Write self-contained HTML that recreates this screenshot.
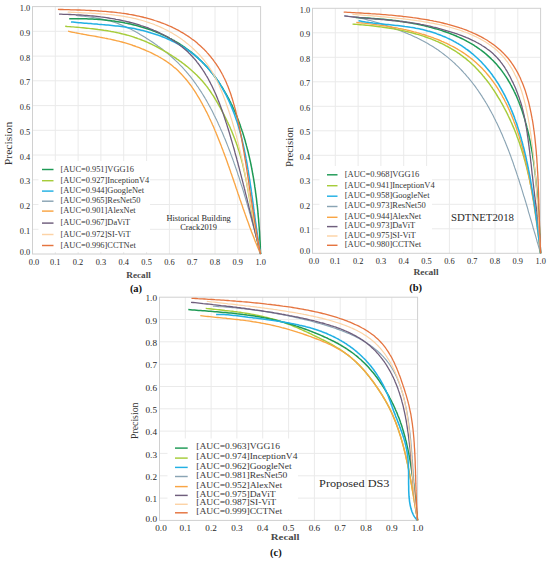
<!DOCTYPE html>
<html><head><meta charset="utf-8"><style>
html,body{margin:0;padding:0;background:#fff;}
svg{display:block;}
text{font-family:"Liberation Serif",serif;}
.g{stroke:#eaeaea;stroke-width:1;}
.bd{fill:none;stroke:#d0d0d0;stroke-width:1;}
.c{fill:none;stroke-linejoin:round;stroke-linecap:butt;}
.t{fill:#262626;}
.lg{fill:#363636;}
.an{fill:#2a2a2a;}
.al{fill:#4a4a4a;font-weight:bold;}
.ar{fill:#333;}
.b{font-weight:bold;fill:#3a3a3a;}
.pl{fill:#111;font-weight:bold;}
</style></head><body>
<svg width="550" height="563" viewBox="0 0 550 563">
<rect width="550" height="563" fill="#fff"/>
<line x1="55.3" y1="6.6" x2="55.3" y2="254.0" class="g"/>
<line x1="32.5" y1="229.3" x2="260.6" y2="229.3" class="g"/>
<line x1="78.1" y1="6.6" x2="78.1" y2="254.0" class="g"/>
<line x1="32.5" y1="204.5" x2="260.6" y2="204.5" class="g"/>
<line x1="100.9" y1="6.6" x2="100.9" y2="254.0" class="g"/>
<line x1="32.5" y1="179.8" x2="260.6" y2="179.8" class="g"/>
<line x1="123.7" y1="6.6" x2="123.7" y2="254.0" class="g"/>
<line x1="32.5" y1="155.0" x2="260.6" y2="155.0" class="g"/>
<line x1="146.6" y1="6.6" x2="146.6" y2="254.0" class="g"/>
<line x1="32.5" y1="130.3" x2="260.6" y2="130.3" class="g"/>
<line x1="169.4" y1="6.6" x2="169.4" y2="254.0" class="g"/>
<line x1="32.5" y1="105.6" x2="260.6" y2="105.6" class="g"/>
<line x1="192.2" y1="6.6" x2="192.2" y2="254.0" class="g"/>
<line x1="32.5" y1="80.8" x2="260.6" y2="80.8" class="g"/>
<line x1="215.0" y1="6.6" x2="215.0" y2="254.0" class="g"/>
<line x1="32.5" y1="56.1" x2="260.6" y2="56.1" class="g"/>
<line x1="237.8" y1="6.6" x2="237.8" y2="254.0" class="g"/>
<line x1="32.5" y1="31.3" x2="260.6" y2="31.3" class="g"/>
<rect x="38.5" y="161" width="111.5" height="91" fill="#fff"/>
<rect x="32.5" y="6.6" width="228.1" height="247.4" class="bd"/>
<path d="M76.1,15.5 L78.0,15.7 L80.0,15.9 L81.9,16.1 L83.8,16.3 L85.7,16.5 L87.6,16.7 L89.5,17.0 L91.4,17.2 L93.2,17.5 L95.1,17.8 L96.9,18.1 L98.7,18.4 L100.5,18.8 L102.2,19.1 L104.0,19.5 L105.7,19.9 L107.4,20.4 L109.1,20.8 L110.7,21.3 L112.4,21.7 L114.0,22.3 L115.6,22.8 L117.2,23.3 L118.7,23.9 L120.2,24.5 L121.8,25.1 L123.3,25.7 L124.7,26.4 L126.2,27.0 L127.7,27.7 L129.1,28.4 L130.5,29.1 L131.9,29.8 L133.3,30.6 L134.7,31.3 L136.1,32.1 L137.4,32.8 L138.8,33.6 L140.1,34.4 L141.5,35.2 L142.8,36.0 L144.1,36.8 L145.4,37.6 L146.7,38.4 L148.0,39.2 L149.3,40.1 L150.6,40.9 L151.9,41.8 L153.1,42.6 L154.4,43.5 L155.7,44.4 L156.9,45.2 L158.1,46.1 L159.4,47.0 L160.6,47.9 L161.8,48.8 L163.0,49.8 L164.2,50.7 L165.4,51.6 L166.5,52.6 L167.7,53.6 L168.9,54.5 L170.0,55.5 L171.1,56.5 L172.3,57.5 L173.4,58.5 L174.5,59.5 L175.6,60.6 L176.7,61.6 L177.8,62.6 L178.8,63.7 L179.9,64.8 L180.9,65.8 L182.0,66.9 L183.0,68.0 L184.0,69.2 L185.0,70.3 L186.0,71.4 L187.0,72.6 L187.9,73.7 L188.9,74.9 L189.9,76.0 L190.8,77.2 L191.7,78.4 L192.7,79.6 L193.6,80.8 L194.5,82.1 L195.4,83.3 L196.2,84.5 L197.1,85.8 L198.0,87.0 L198.8,88.3 L199.7,89.6 L200.5,90.9 L201.4,92.2 L202.2,93.5 L203.0,94.8 L203.8,96.1 L204.6,97.4 L205.4,98.8 L206.2,100.1 L207.0,101.5 L207.7,102.8 L208.5,104.2 L209.2,105.6 L210.0,106.9 L210.7,108.3 L211.5,109.7 L212.2,111.1 L212.9,112.5 L213.6,113.9 L214.3,115.4 L215.0,116.8 L215.7,118.2 L216.4,119.6 L217.1,121.1 L217.8,122.5 L218.4,124.0 L219.1,125.5 L219.8,126.9 L220.4,128.4 L221.1,129.9 L221.7,131.3 L222.4,132.8 L223.0,134.3 L223.6,135.8 L224.2,137.3 L224.9,138.8 L225.5,140.3 L226.1,141.8 L226.7,143.3 L227.3,144.9 L227.9,146.4 L228.5,147.9 L229.1,149.5 L229.7,151.0 L230.3,152.5 L230.8,154.1 L231.4,155.6 L232.0,157.2 L232.6,158.8 L233.1,160.3 L233.7,161.9 L234.2,163.5 L234.8,165.0 L235.3,166.6 L235.9,168.2 L236.4,169.8 L237.0,171.4 L237.5,172.9 L238.0,174.5 L238.6,176.1 L239.1,177.7 L239.6,179.3 L240.1,181.0 L240.6,182.6 L241.1,184.2 L241.7,185.8 L242.2,187.4 L242.7,189.0 L243.2,190.7 L243.7,192.3 L244.2,193.9 L244.6,195.6 L245.1,197.2 L245.6,198.8 L246.1,200.5 L246.6,202.1 L247.1,203.8 L247.5,205.4 L248.0,207.1 L248.5,208.7 L249.0,210.4 L249.4,212.0 L249.9,213.7 L250.4,215.4 L250.8,217.0 L251.3,218.7 L251.7,220.3 L252.2,222.0 L252.7,223.7 L253.1,225.4 L253.6,227.0 L254.0,228.7 L254.5,230.4 L254.9,232.1 L255.3,233.7 L255.8,235.4 L256.2,237.1 L256.7,238.8 L257.1,240.5 L257.6,242.2 L258.0,243.9 L258.4,245.5 L258.9,247.2 L259.3,248.9 L259.7,250.6 L260.2,252.3 L260.6,254.0" stroke="#8aa4b4" class="c" stroke-width="1.15"/>
<path d="M65.2,26.3 L67.2,26.5 L69.1,26.6 L71.1,26.8 L73.1,26.9 L75.0,27.1 L77.0,27.2 L79.0,27.4 L80.9,27.6 L82.9,27.8 L84.8,28.0 L86.7,28.2 L88.7,28.4 L90.6,28.6 L92.5,28.8 L94.4,29.0 L96.3,29.2 L98.2,29.5 L100.0,29.7 L101.9,30.0 L103.8,30.3 L105.6,30.5 L107.4,30.8 L109.3,31.1 L111.1,31.5 L112.9,31.8 L114.6,32.1 L116.4,32.5 L118.2,32.9 L119.9,33.3 L121.6,33.7 L123.3,34.1 L125.0,34.5 L126.7,35.0 L128.3,35.4 L130.0,35.9 L131.6,36.4 L133.2,36.9 L134.8,37.5 L136.4,38.0 L138.0,38.6 L139.5,39.1 L141.1,39.7 L142.6,40.3 L144.1,40.9 L145.6,41.5 L147.1,42.2 L148.6,42.8 L150.0,43.5 L151.5,44.2 L152.9,44.9 L154.4,45.6 L155.8,46.3 L157.2,47.0 L158.6,47.8 L159.9,48.5 L161.3,49.3 L162.7,50.0 L164.0,50.8 L165.3,51.6 L166.7,52.4 L168.0,53.2 L169.3,54.0 L170.6,54.8 L171.9,55.7 L173.2,56.5 L174.5,57.3 L175.8,58.2 L177.0,59.1 L178.3,59.9 L179.5,60.8 L180.8,61.7 L182.0,62.6 L183.2,63.5 L184.4,64.4 L185.6,65.4 L186.8,66.3 L188.0,67.3 L189.1,68.2 L190.3,69.2 L191.4,70.2 L192.5,71.2 L193.6,72.2 L194.7,73.2 L195.8,74.3 L196.9,75.3 L198.0,76.4 L199.0,77.5 L200.0,78.6 L201.1,79.7 L202.1,80.8 L203.1,81.9 L204.0,83.1 L205.0,84.2 L205.9,85.4 L206.9,86.6 L207.8,87.8 L208.7,89.1 L209.6,90.3 L210.4,91.5 L211.3,92.8 L212.1,94.1 L213.0,95.4 L213.8,96.7 L214.6,98.0 L215.4,99.3 L216.2,100.7 L217.0,102.0 L217.8,103.4 L218.5,104.7 L219.3,106.1 L220.1,107.4 L220.8,108.8 L221.6,110.2 L222.3,111.6 L223.0,113.0 L223.8,114.4 L224.5,115.8 L225.2,117.2 L225.9,118.6 L226.6,120.0 L227.3,121.5 L228.0,122.9 L228.6,124.4 L229.3,125.8 L230.0,127.3 L230.6,128.8 L231.3,130.3 L231.9,131.7 L232.5,133.2 L233.1,134.8 L233.7,136.3 L234.3,137.8 L234.9,139.3 L235.5,140.9 L236.1,142.4 L236.6,144.0 L237.2,145.6 L237.7,147.2 L238.2,148.8 L238.8,150.4 L239.3,152.0 L239.8,153.7 L240.2,155.3 L240.7,157.0 L241.2,158.6 L241.6,160.3 L242.1,162.0 L242.5,163.7 L242.9,165.4 L243.3,167.1 L243.7,168.8 L244.1,170.6 L244.5,172.3 L244.9,174.1 L245.2,175.8 L245.6,177.6 L246.0,179.3 L246.3,181.1 L246.7,182.9 L247.0,184.7 L247.3,186.5 L247.7,188.3 L248.0,190.1 L248.3,191.9 L248.6,193.7 L249.0,195.5 L249.3,197.3 L249.6,199.1 L249.9,200.9 L250.2,202.7 L250.5,204.5 L250.8,206.4 L251.2,208.2 L251.5,210.0 L251.8,211.8 L252.1,213.6 L252.4,215.4 L252.7,217.2 L253.0,219.0 L253.4,220.8 L253.7,222.6 L254.0,224.4 L254.4,226.2 L254.7,228.0 L255.0,229.8 L255.4,231.6 L255.7,233.3 L256.1,235.1 L256.5,236.9 L256.9,238.6 L257.2,240.4 L257.6,242.1 L258.0,243.8 L258.4,245.5 L258.8,247.3 L259.3,249.0 L259.7,250.6 L260.1,252.3 L260.6,254.0" stroke="#a6cc3a" class="c" stroke-width="1.45"/>
<path d="M68.1,31.2 L69.8,31.6 L71.5,32.0 L73.2,32.3 L75.0,32.7 L76.7,33.0 L78.5,33.3 L80.2,33.7 L82.0,34.0 L83.8,34.3 L85.5,34.6 L87.3,35.0 L89.1,35.3 L90.8,35.6 L92.6,35.9 L94.4,36.2 L96.2,36.5 L97.9,36.8 L99.7,37.2 L101.5,37.5 L103.2,37.8 L105.0,38.2 L106.7,38.5 L108.4,38.9 L110.2,39.2 L111.9,39.6 L113.6,40.0 L115.3,40.4 L117.0,40.8 L118.7,41.2 L120.3,41.6 L122.0,42.0 L123.6,42.5 L125.2,42.9 L126.8,43.4 L128.4,43.9 L130.0,44.4 L131.6,44.9 L133.1,45.5 L134.7,46.0 L136.2,46.6 L137.7,47.1 L139.3,47.7 L140.8,48.3 L142.2,48.9 L143.7,49.5 L145.2,50.1 L146.6,50.8 L148.1,51.4 L149.5,52.0 L150.9,52.7 L152.3,53.4 L153.7,54.1 L155.1,54.8 L156.5,55.5 L157.9,56.2 L159.2,57.0 L160.5,57.7 L161.8,58.5 L163.1,59.3 L164.4,60.1 L165.7,60.9 L166.9,61.7 L168.2,62.6 L169.4,63.5 L170.6,64.4 L171.8,65.3 L172.9,66.2 L174.0,67.2 L175.2,68.1 L176.3,69.1 L177.4,70.1 L178.4,71.1 L179.5,72.2 L180.5,73.2 L181.5,74.3 L182.5,75.4 L183.5,76.5 L184.5,77.6 L185.5,78.7 L186.4,79.8 L187.4,81.0 L188.3,82.2 L189.2,83.3 L190.1,84.5 L191.0,85.7 L191.8,86.9 L192.7,88.2 L193.5,89.4 L194.4,90.7 L195.2,91.9 L196.0,93.2 L196.8,94.5 L197.6,95.8 L198.4,97.1 L199.2,98.4 L199.9,99.7 L200.7,101.0 L201.4,102.4 L202.2,103.7 L202.9,105.1 L203.6,106.4 L204.4,107.8 L205.1,109.2 L205.8,110.6 L206.5,111.9 L207.2,113.3 L207.9,114.7 L208.6,116.1 L209.2,117.5 L209.9,119.0 L210.6,120.4 L211.2,121.8 L211.9,123.3 L212.5,124.7 L213.2,126.1 L213.8,127.6 L214.4,129.1 L215.0,130.5 L215.7,132.0 L216.3,133.5 L216.9,134.9 L217.5,136.4 L218.1,137.9 L218.7,139.4 L219.3,140.9 L219.9,142.4 L220.5,143.9 L221.1,145.4 L221.6,146.9 L222.2,148.4 L222.8,149.9 L223.3,151.4 L223.9,153.0 L224.5,154.5 L225.0,156.0 L225.6,157.5 L226.1,159.1 L226.7,160.6 L227.2,162.1 L227.8,163.7 L228.3,165.2 L228.9,166.8 L229.4,168.3 L230.0,169.9 L230.5,171.4 L231.0,173.0 L231.6,174.5 L232.1,176.1 L232.6,177.6 L233.2,179.2 L233.7,180.7 L234.2,182.3 L234.8,183.8 L235.3,185.4 L235.8,187.0 L236.3,188.5 L236.9,190.1 L237.4,191.6 L237.9,193.2 L238.5,194.8 L239.0,196.3 L239.5,197.9 L240.0,199.4 L240.6,201.0 L241.1,202.5 L241.6,204.1 L242.2,205.6 L242.7,207.2 L243.2,208.7 L243.8,210.3 L244.3,211.8 L244.9,213.4 L245.4,214.9 L246.0,216.5 L246.5,218.0 L247.0,219.6 L247.6,221.1 L248.2,222.6 L248.7,224.1 L249.3,225.7 L249.8,227.2 L250.4,228.7 L251.0,230.2 L251.5,231.8 L252.1,233.3 L252.7,234.8 L253.3,236.3 L253.9,237.8 L254.5,239.3 L255.0,240.8 L255.6,242.3 L256.3,243.7 L256.9,245.2 L257.5,246.7 L258.1,248.2 L258.7,249.6 L259.3,251.1 L260.0,252.5 L260.6,254.0" stroke="#f9a544" class="c" stroke-width="1.35"/>
<path d="M69.2,18.8 L71.4,18.8 L73.6,18.7 L75.7,18.7 L77.9,18.7 L80.0,18.7 L82.1,18.7 L84.2,18.8 L86.3,18.8 L88.4,18.9 L90.5,19.0 L92.5,19.1 L94.5,19.2 L96.6,19.3 L98.6,19.5 L100.5,19.6 L102.5,19.8 L104.5,20.0 L106.4,20.2 L108.4,20.4 L110.3,20.6 L112.2,20.9 L114.1,21.1 L115.9,21.4 L117.8,21.7 L119.6,22.0 L121.5,22.3 L123.3,22.6 L125.1,23.0 L126.9,23.3 L128.6,23.7 L130.4,24.1 L132.1,24.5 L133.9,24.9 L135.6,25.3 L137.3,25.8 L139.0,26.2 L140.6,26.7 L142.3,27.2 L143.9,27.7 L145.6,28.2 L147.2,28.7 L148.8,29.3 L150.4,29.8 L151.9,30.4 L153.5,31.0 L155.1,31.6 L156.6,32.2 L158.1,32.8 L159.6,33.4 L161.1,34.1 L162.6,34.7 L164.1,35.4 L165.5,36.1 L167.0,36.8 L168.4,37.5 L169.8,38.3 L171.2,39.0 L172.6,39.8 L174.0,40.5 L175.3,41.3 L176.7,42.1 L178.0,42.9 L179.3,43.7 L180.6,44.6 L181.9,45.4 L183.2,46.3 L184.5,47.2 L185.7,48.0 L187.0,49.0 L188.2,49.9 L189.4,50.8 L190.6,51.7 L191.8,52.7 L193.0,53.6 L194.2,54.6 L195.3,55.6 L196.4,56.6 L197.6,57.6 L198.7,58.7 L199.8,59.7 L200.9,60.8 L202.0,61.8 L203.0,62.9 L204.1,64.0 L205.1,65.1 L206.2,66.2 L207.2,67.3 L208.2,68.5 L209.2,69.6 L210.2,70.8 L211.1,72.0 L212.1,73.1 L213.0,74.3 L214.0,75.5 L214.9,76.8 L215.8,78.0 L216.7,79.2 L217.6,80.5 L218.5,81.8 L219.3,83.0 L220.2,84.3 L221.0,85.6 L221.9,86.9 L222.7,88.2 L223.5,89.6 L224.3,90.9 L225.1,92.3 L225.9,93.6 L226.7,95.0 L227.4,96.4 L228.2,97.8 L228.9,99.2 L229.6,100.6 L230.4,102.0 L231.1,103.5 L231.8,104.9 L232.4,106.4 L233.1,107.8 L233.8,109.3 L234.4,110.8 L235.1,112.3 L235.7,113.8 L236.4,115.3 L237.0,116.8 L237.6,118.4 L238.2,119.9 L238.8,121.5 L239.4,123.0 L239.9,124.6 L240.5,126.2 L241.0,127.8 L241.6,129.4 L242.1,131.0 L242.7,132.6 L243.2,134.2 L243.7,135.9 L244.2,137.5 L244.7,139.2 L245.2,140.8 L245.6,142.5 L246.1,144.2 L246.5,145.9 L247.0,147.6 L247.4,149.3 L247.9,151.0 L248.3,152.7 L248.7,154.4 L249.1,156.2 L249.5,157.9 L249.9,159.7 L250.3,161.4 L250.7,163.2 L251.0,165.0 L251.4,166.7 L251.7,168.5 L252.1,170.3 L252.4,172.1 L252.7,174.0 L253.1,175.8 L253.4,177.6 L253.7,179.4 L254.0,181.3 L254.3,183.1 L254.6,185.0 L254.8,186.9 L255.1,188.7 L255.4,190.6 L255.6,192.5 L255.9,194.4 L256.1,196.3 L256.4,198.2 L256.6,200.1 L256.8,202.0 L257.0,204.0 L257.3,205.9 L257.5,207.8 L257.7,209.8 L257.9,211.7 L258.0,213.7 L258.2,215.6 L258.4,217.6 L258.6,219.6 L258.7,221.6 L258.9,223.6 L259.0,225.5 L259.2,227.5 L259.3,229.5 L259.5,231.6 L259.6,233.6 L259.7,235.6 L259.8,237.6 L259.9,239.6 L260.1,241.7 L260.2,243.7 L260.3,245.8 L260.3,247.8 L260.4,249.9 L260.5,251.9 L260.6,254.0" stroke="#1e9a55" class="c" stroke-width="1.50"/>
<path d="M71.0,21.9 L72.9,22.1 L74.8,22.3 L76.8,22.5 L78.7,22.7 L80.7,22.8 L82.6,23.0 L84.6,23.2 L86.5,23.3 L88.5,23.5 L90.5,23.6 L92.4,23.8 L94.4,23.9 L96.4,24.1 L98.3,24.3 L100.3,24.4 L102.2,24.6 L104.2,24.7 L106.1,24.9 L108.1,25.1 L110.0,25.3 L111.9,25.5 L113.9,25.7 L115.8,25.9 L117.7,26.1 L119.6,26.3 L121.4,26.6 L123.3,26.8 L125.2,27.1 L127.0,27.4 L128.8,27.7 L130.6,28.0 L132.4,28.3 L134.2,28.6 L135.9,29.0 L137.7,29.4 L139.4,29.8 L141.1,30.2 L142.9,30.6 L144.5,31.0 L146.2,31.4 L147.9,31.9 L149.5,32.4 L151.2,32.9 L152.8,33.4 L154.4,33.9 L156.0,34.4 L157.6,34.9 L159.1,35.5 L160.7,36.1 L162.2,36.7 L163.7,37.3 L165.2,37.9 L166.7,38.5 L168.2,39.2 L169.6,39.8 L171.1,40.5 L172.5,41.2 L173.9,41.9 L175.3,42.6 L176.7,43.3 L178.1,44.1 L179.4,44.8 L180.8,45.6 L182.1,46.4 L183.4,47.2 L184.7,48.0 L186.0,48.9 L187.3,49.7 L188.5,50.6 L189.8,51.5 L191.0,52.4 L192.2,53.3 L193.4,54.2 L194.6,55.2 L195.7,56.1 L196.9,57.1 L198.0,58.1 L199.1,59.1 L200.2,60.1 L201.3,61.1 L202.4,62.2 L203.4,63.2 L204.5,64.3 L205.5,65.4 L206.5,66.5 L207.5,67.6 L208.5,68.7 L209.5,69.9 L210.5,71.0 L211.4,72.2 L212.4,73.4 L213.3,74.6 L214.2,75.8 L215.1,77.0 L216.0,78.3 L216.8,79.5 L217.7,80.8 L218.5,82.0 L219.4,83.3 L220.2,84.6 L221.0,85.9 L221.8,87.3 L222.6,88.6 L223.3,90.0 L224.1,91.3 L224.8,92.7 L225.6,94.1 L226.3,95.5 L227.0,96.9 L227.7,98.3 L228.4,99.8 L229.0,101.2 L229.7,102.7 L230.3,104.1 L231.0,105.6 L231.6,107.1 L232.2,108.6 L232.8,110.1 L233.4,111.6 L234.0,113.2 L234.6,114.7 L235.1,116.3 L235.7,117.9 L236.2,119.4 L236.8,121.0 L237.3,122.6 L237.8,124.2 L238.3,125.9 L238.8,127.5 L239.2,129.1 L239.7,130.8 L240.2,132.4 L240.6,134.1 L241.1,135.8 L241.5,137.5 L241.9,139.2 L242.3,140.9 L242.7,142.6 L243.1,144.3 L243.5,146.1 L243.9,147.8 L244.3,149.5 L244.6,151.3 L245.0,153.1 L245.3,154.8 L245.7,156.6 L246.0,158.4 L246.4,160.2 L246.7,162.0 L247.0,163.7 L247.3,165.6 L247.6,167.4 L247.9,169.2 L248.3,171.0 L248.5,172.8 L248.8,174.6 L249.1,176.5 L249.4,178.3 L249.7,180.1 L250.0,182.0 L250.2,183.8 L250.5,185.7 L250.8,187.5 L251.1,189.4 L251.3,191.2 L251.6,193.1 L251.8,194.9 L252.1,196.8 L252.4,198.7 L252.6,200.5 L252.9,202.4 L253.1,204.3 L253.4,206.1 L253.6,208.0 L253.9,209.9 L254.1,211.7 L254.4,213.6 L254.7,215.4 L254.9,217.3 L255.2,219.2 L255.4,221.0 L255.7,222.9 L256.0,224.7 L256.2,226.6 L256.5,228.4 L256.8,230.3 L257.0,232.1 L257.3,234.0 L257.6,235.8 L257.9,237.7 L258.1,239.5 L258.4,241.3 L258.7,243.2 L259.0,245.0 L259.3,246.8 L259.6,248.6 L260.0,250.4 L260.3,252.2 L260.6,254.0" stroke="#22b0e4" class="c" stroke-width="1.55"/>
<path d="M59.0,14.2 L61.2,14.2 L63.3,14.3 L65.5,14.3 L67.7,14.4 L69.8,14.5 L72.0,14.6 L74.1,14.6 L76.2,14.8 L78.3,14.9 L80.4,15.0 L82.5,15.1 L84.5,15.3 L86.6,15.4 L88.6,15.6 L90.7,15.8 L92.7,16.0 L94.7,16.2 L96.7,16.4 L98.7,16.6 L100.7,16.9 L102.6,17.1 L104.6,17.4 L106.5,17.7 L108.5,18.0 L110.4,18.3 L112.3,18.6 L114.2,18.9 L116.0,19.3 L117.9,19.6 L119.8,20.0 L121.6,20.4 L123.4,20.8 L125.2,21.2 L127.0,21.6 L128.8,22.0 L130.6,22.5 L132.3,22.9 L134.1,23.4 L135.8,23.9 L137.5,24.4 L139.2,24.9 L140.9,25.5 L142.6,26.0 L144.2,26.6 L145.9,27.2 L147.5,27.7 L149.1,28.4 L150.7,29.0 L152.3,29.6 L153.8,30.3 L155.4,30.9 L156.9,31.6 L158.4,32.3 L159.9,33.0 L161.4,33.8 L162.9,34.5 L164.4,35.3 L165.8,36.0 L167.2,36.8 L168.6,37.7 L170.0,38.5 L171.4,39.3 L172.8,40.2 L174.1,41.1 L175.4,42.0 L176.7,42.9 L178.0,43.8 L179.3,44.7 L180.5,45.7 L181.8,46.7 L183.0,47.7 L184.2,48.7 L185.4,49.7 L186.6,50.8 L187.7,51.8 L188.8,52.9 L190.0,54.0 L191.1,55.2 L192.1,56.3 L193.2,57.5 L194.2,58.6 L195.3,59.8 L196.3,61.0 L197.2,62.3 L198.2,63.5 L199.2,64.8 L200.1,66.1 L201.0,67.4 L201.9,68.7 L202.8,70.0 L203.7,71.3 L204.6,72.7 L205.4,74.1 L206.2,75.5 L207.1,76.9 L207.9,78.3 L208.7,79.7 L209.4,81.1 L210.2,82.6 L210.9,84.1 L211.7,85.5 L212.4,87.0 L213.1,88.5 L213.8,90.0 L214.5,91.6 L215.2,93.1 L215.9,94.6 L216.6,96.2 L217.2,97.8 L217.8,99.3 L218.5,100.9 L219.1,102.5 L219.7,104.1 L220.3,105.7 L220.9,107.3 L221.5,109.0 L222.1,110.6 L222.7,112.2 L223.3,113.9 L223.8,115.5 L224.4,117.2 L224.9,118.9 L225.5,120.5 L226.0,122.2 L226.6,123.9 L227.1,125.6 L227.6,127.3 L228.2,129.0 L228.7,130.7 L229.2,132.4 L229.7,134.1 L230.2,135.8 L230.7,137.5 L231.2,139.2 L231.7,140.9 L232.2,142.6 L232.7,144.4 L233.2,146.1 L233.7,147.8 L234.2,149.5 L234.7,151.3 L235.1,153.0 L235.6,154.8 L236.1,156.5 L236.6,158.2 L237.0,160.0 L237.5,161.7 L238.0,163.5 L238.4,165.3 L238.9,167.0 L239.4,168.8 L239.8,170.5 L240.3,172.3 L240.7,174.0 L241.2,175.8 L241.6,177.6 L242.1,179.4 L242.5,181.1 L243.0,182.9 L243.4,184.7 L243.9,186.4 L244.3,188.2 L244.8,190.0 L245.2,191.8 L245.6,193.5 L246.1,195.3 L246.5,197.1 L247.0,198.9 L247.4,200.7 L247.8,202.4 L248.3,204.2 L248.7,206.0 L249.1,207.8 L249.6,209.6 L250.0,211.4 L250.4,213.1 L250.9,214.9 L251.3,216.7 L251.8,218.5 L252.2,220.3 L252.6,222.0 L253.1,223.8 L253.5,225.6 L253.9,227.4 L254.4,229.2 L254.8,231.0 L255.3,232.7 L255.7,234.5 L256.1,236.3 L256.6,238.1 L257.0,239.8 L257.5,241.6 L257.9,243.4 L258.3,245.2 L258.8,246.9 L259.2,248.7 L259.7,250.5 L260.1,252.2 L260.6,254.0" stroke="#6f5e7c" class="c" stroke-width="1.30"/>
<path d="M67.7,12.1 L69.8,12.2 L71.9,12.3 L73.9,12.4 L76.0,12.5 L78.1,12.6 L80.2,12.7 L82.3,12.8 L84.4,12.9 L86.5,13.0 L88.5,13.1 L90.6,13.2 L92.7,13.3 L94.8,13.4 L96.8,13.6 L98.9,13.7 L100.9,13.9 L102.9,14.0 L105.0,14.2 L107.0,14.3 L109.0,14.5 L111.0,14.7 L112.9,14.9 L114.9,15.2 L116.8,15.4 L118.8,15.6 L120.7,15.9 L122.6,16.2 L124.5,16.5 L126.3,16.8 L128.2,17.2 L130.0,17.5 L131.8,17.9 L133.6,18.3 L135.4,18.7 L137.1,19.1 L138.9,19.6 L140.6,20.0 L142.3,20.5 L144.0,21.0 L145.7,21.5 L147.3,22.1 L149.0,22.6 L150.6,23.2 L152.2,23.7 L153.8,24.3 L155.3,25.0 L156.9,25.6 L158.4,26.2 L160.0,26.9 L161.5,27.6 L163.0,28.3 L164.4,29.0 L165.9,29.7 L167.3,30.4 L168.8,31.2 L170.2,32.0 L171.6,32.8 L172.9,33.6 L174.3,34.4 L175.7,35.2 L177.0,36.1 L178.3,36.9 L179.6,37.8 L180.9,38.7 L182.2,39.6 L183.4,40.6 L184.7,41.5 L185.9,42.5 L187.1,43.4 L188.3,44.4 L189.5,45.4 L190.7,46.4 L191.8,47.4 L193.0,48.5 L194.1,49.5 L195.2,50.6 L196.3,51.7 L197.4,52.8 L198.5,53.9 L199.6,55.0 L200.6,56.2 L201.6,57.3 L202.6,58.5 L203.6,59.7 L204.6,60.9 L205.5,62.2 L206.5,63.4 L207.4,64.7 L208.3,65.9 L209.2,67.2 L210.1,68.6 L210.9,69.9 L211.8,71.2 L212.6,72.6 L213.4,74.0 L214.2,75.4 L214.9,76.8 L215.7,78.3 L216.4,79.7 L217.1,81.2 L217.8,82.6 L218.5,84.1 L219.2,85.6 L219.9,87.2 L220.5,88.7 L221.2,90.2 L221.8,91.8 L222.4,93.4 L223.0,94.9 L223.6,96.5 L224.2,98.1 L224.8,99.7 L225.4,101.3 L226.0,102.9 L226.5,104.5 L227.1,106.1 L227.7,107.8 L228.2,109.4 L228.8,111.0 L229.3,112.7 L229.9,114.3 L230.4,116.0 L230.9,117.6 L231.5,119.3 L232.0,120.9 L232.5,122.6 L233.0,124.3 L233.5,126.0 L234.0,127.6 L234.5,129.3 L235.0,131.0 L235.5,132.8 L235.9,134.5 L236.4,136.2 L236.8,137.9 L237.3,139.7 L237.7,141.4 L238.2,143.1 L238.6,144.9 L239.0,146.7 L239.5,148.4 L239.9,150.2 L240.3,152.0 L240.7,153.7 L241.1,155.5 L241.5,157.3 L241.9,159.1 L242.3,160.9 L242.7,162.7 L243.1,164.5 L243.4,166.3 L243.8,168.1 L244.2,169.9 L244.6,171.7 L244.9,173.5 L245.3,175.4 L245.6,177.2 L246.0,179.0 L246.4,180.8 L246.7,182.7 L247.1,184.5 L247.4,186.3 L247.8,188.2 L248.1,190.0 L248.5,191.9 L248.8,193.7 L249.1,195.5 L249.5,197.4 L249.8,199.2 L250.2,201.1 L250.5,202.9 L250.9,204.7 L251.2,206.6 L251.5,208.4 L251.9,210.3 L252.2,212.1 L252.6,214.0 L252.9,215.8 L253.3,217.6 L253.6,219.5 L253.9,221.3 L254.3,223.2 L254.6,225.0 L255.0,226.8 L255.4,228.7 L255.7,230.5 L256.1,232.3 L256.4,234.1 L256.8,236.0 L257.2,237.8 L257.5,239.6 L257.9,241.4 L258.3,243.2 L258.7,245.0 L259.0,246.8 L259.4,248.6 L259.8,250.4 L260.2,252.2 L260.6,254.0" stroke="#fcd3a6" class="c" stroke-width="1.20"/>
<path d="M57.9,9.4 L60.1,9.5 L62.3,9.5 L64.5,9.6 L66.7,9.6 L68.8,9.7 L71.0,9.8 L73.2,9.8 L75.4,9.9 L77.6,10.0 L79.7,10.0 L81.9,10.1 L84.1,10.2 L86.2,10.3 L88.4,10.4 L90.5,10.5 L92.7,10.6 L94.8,10.7 L96.9,10.8 L99.0,11.0 L101.1,11.1 L103.2,11.3 L105.3,11.4 L107.4,11.6 L109.4,11.8 L111.5,12.0 L113.5,12.2 L115.6,12.4 L117.6,12.7 L119.6,12.9 L121.6,13.2 L123.5,13.4 L125.5,13.7 L127.4,14.0 L129.4,14.4 L131.3,14.7 L133.2,15.0 L135.1,15.4 L136.9,15.8 L138.8,16.2 L140.6,16.6 L142.4,17.0 L144.2,17.5 L146.0,17.9 L147.8,18.4 L149.6,18.9 L151.3,19.4 L153.0,19.9 L154.7,20.5 L156.4,21.0 L158.1,21.6 L159.8,22.2 L161.4,22.8 L163.1,23.4 L164.7,24.0 L166.3,24.7 L167.8,25.3 L169.4,26.0 L171.0,26.7 L172.5,27.4 L174.0,28.2 L175.5,28.9 L177.0,29.7 L178.5,30.4 L179.9,31.2 L181.3,32.1 L182.8,32.9 L184.2,33.7 L185.5,34.6 L186.9,35.5 L188.3,36.4 L189.6,37.3 L190.9,38.2 L192.2,39.2 L193.5,40.1 L194.8,41.1 L196.0,42.1 L197.2,43.1 L198.4,44.2 L199.6,45.2 L200.8,46.3 L202.0,47.4 L203.1,48.5 L204.3,49.6 L205.4,50.7 L206.5,51.9 L207.5,53.1 L208.6,54.3 L209.6,55.5 L210.6,56.7 L211.6,58.0 L212.6,59.2 L213.6,60.5 L214.5,61.8 L215.5,63.1 L216.4,64.4 L217.3,65.8 L218.2,67.2 L219.0,68.5 L219.9,69.9 L220.7,71.4 L221.5,72.8 L222.3,74.3 L223.1,75.7 L223.8,77.2 L224.6,78.7 L225.3,80.3 L226.0,81.8 L226.7,83.4 L227.3,85.0 L228.0,86.6 L228.6,88.2 L229.2,89.8 L229.8,91.5 L230.4,93.1 L231.0,94.8 L231.5,96.5 L232.1,98.2 L232.6,99.9 L233.1,101.6 L233.6,103.4 L234.1,105.1 L234.6,106.9 L235.1,108.7 L235.6,110.5 L236.0,112.3 L236.4,114.1 L236.9,115.9 L237.3,117.7 L237.7,119.5 L238.1,121.4 L238.5,123.2 L238.9,125.1 L239.3,126.9 L239.7,128.8 L240.1,130.7 L240.4,132.6 L240.8,134.4 L241.2,136.3 L241.5,138.2 L241.9,140.1 L242.2,142.0 L242.5,143.9 L242.9,145.8 L243.2,147.8 L243.5,149.7 L243.9,151.6 L244.2,153.5 L244.5,155.5 L244.8,157.4 L245.1,159.3 L245.5,161.3 L245.8,163.2 L246.1,165.1 L246.4,167.1 L246.7,169.0 L247.0,171.0 L247.3,172.9 L247.6,174.9 L247.9,176.8 L248.2,178.8 L248.5,180.7 L248.8,182.7 L249.0,184.6 L249.3,186.6 L249.6,188.5 L249.9,190.5 L250.2,192.5 L250.5,194.4 L250.8,196.4 L251.1,198.3 L251.4,200.3 L251.7,202.2 L252.0,204.2 L252.3,206.1 L252.6,208.1 L252.9,210.0 L253.2,212.0 L253.5,213.9 L253.8,215.9 L254.1,217.8 L254.4,219.7 L254.7,221.7 L255.0,223.6 L255.3,225.5 L255.7,227.5 L256.0,229.4 L256.3,231.3 L256.7,233.2 L257.0,235.1 L257.3,237.0 L257.7,238.9 L258.0,240.8 L258.4,242.7 L258.7,244.6 L259.1,246.5 L259.5,248.4 L259.8,250.3 L260.2,252.1 L260.6,254.0" stroke="#e5743f" class="c" stroke-width="1.30"/>
<line x1="42" y1="169.5" x2="53.5" y2="169.5" stroke="#1e9a55" stroke-width="1.45"/>
<text x="60.5" y="171.5" font-size="8.4" class="lg" transform="translate(60.5,0) scale(1.0,1) translate(-60.5,0)">[AUC=0.951]VGG16</text>
<line x1="42" y1="180.7" x2="53.5" y2="180.7" stroke="#a6cc3a" stroke-width="1.45"/>
<text x="60.5" y="182.7" font-size="8.4" class="lg" transform="translate(60.5,0) scale(1.0,1) translate(-60.5,0)">[AUC=0.927]InceptionV4</text>
<line x1="42" y1="191.1" x2="53.5" y2="191.1" stroke="#22b0e4" stroke-width="1.45"/>
<text x="60.5" y="193.1" font-size="8.4" class="lg" transform="translate(60.5,0) scale(1.0,1) translate(-60.5,0)">[AUC=0.944]GoogleNet</text>
<line x1="42" y1="201.2" x2="53.5" y2="201.2" stroke="#8aa4b4" stroke-width="1.45"/>
<text x="60.5" y="203.2" font-size="8.4" class="lg" transform="translate(60.5,0) scale(1.0,1) translate(-60.5,0)">[AUC=0.965]ResNet50</text>
<line x1="42" y1="211.1" x2="53.5" y2="211.1" stroke="#f9a544" stroke-width="1.45"/>
<text x="60.5" y="213.1" font-size="8.4" class="lg" transform="translate(60.5,0) scale(1.0,1) translate(-60.5,0)">[AUC=0.901]AlexNet</text>
<line x1="42" y1="223.1" x2="53.5" y2="223.1" stroke="#6f5e7c" stroke-width="1.45"/>
<text x="60.5" y="225.1" font-size="8.4" class="lg" transform="translate(60.5,0) scale(1.0,1) translate(-60.5,0)">[AUC=0.967]DaViT</text>
<line x1="42" y1="234.5" x2="53.5" y2="234.5" stroke="#fcd3a6" stroke-width="1.45"/>
<text x="60.5" y="236.5" font-size="8.4" class="lg" transform="translate(60.5,0) scale(1.0,1) translate(-60.5,0)">[AUC=0.972]SI-ViT</text>
<line x1="42" y1="245.5" x2="53.5" y2="245.5" stroke="#e5743f" stroke-width="1.45"/>
<text x="60.5" y="247.5" font-size="8.4" class="lg" transform="translate(60.5,0) scale(1.0,1) translate(-60.5,0)">[AUC=0.996]CCTNet</text>
<text x="34.0" y="264.8" font-size="8.6" text-anchor="middle" transform="translate(34.0,0) scale(0.97,1) translate(-34.0,0)" class="t">0.0</text>
<text x="30.3" y="254.7" font-size="8.6" text-anchor="end" transform="translate(30.3,0) scale(0.97,1) translate(-30.3,0)" class="t">0.0</text>
<text x="55.3" y="264.8" font-size="8.6" text-anchor="middle" transform="translate(55.3,0) scale(0.97,1) translate(-55.3,0)" class="t">0.1</text>
<text x="30.3" y="234.0" font-size="8.6" text-anchor="end" transform="translate(30.3,0) scale(0.97,1) translate(-30.3,0)" class="t">0.1</text>
<text x="78.1" y="264.8" font-size="8.6" text-anchor="middle" transform="translate(78.1,0) scale(0.97,1) translate(-78.1,0)" class="t">0.2</text>
<text x="30.3" y="209.2" font-size="8.6" text-anchor="end" transform="translate(30.3,0) scale(0.97,1) translate(-30.3,0)" class="t">0.2</text>
<text x="100.9" y="264.8" font-size="8.6" text-anchor="middle" transform="translate(100.9,0) scale(0.97,1) translate(-100.9,0)" class="t">0.3</text>
<text x="30.3" y="184.5" font-size="8.6" text-anchor="end" transform="translate(30.3,0) scale(0.97,1) translate(-30.3,0)" class="t">0.3</text>
<text x="123.7" y="264.8" font-size="8.6" text-anchor="middle" transform="translate(123.7,0) scale(0.97,1) translate(-123.7,0)" class="t">0.4</text>
<text x="30.3" y="159.7" font-size="8.6" text-anchor="end" transform="translate(30.3,0) scale(0.97,1) translate(-30.3,0)" class="t">0.4</text>
<text x="146.6" y="264.8" font-size="8.6" text-anchor="middle" transform="translate(146.6,0) scale(0.97,1) translate(-146.6,0)" class="t">0.5</text>
<text x="30.3" y="135.0" font-size="8.6" text-anchor="end" transform="translate(30.3,0) scale(0.97,1) translate(-30.3,0)" class="t">0.5</text>
<text x="169.4" y="264.8" font-size="8.6" text-anchor="middle" transform="translate(169.4,0) scale(0.97,1) translate(-169.4,0)" class="t">0.6</text>
<text x="30.3" y="110.3" font-size="8.6" text-anchor="end" transform="translate(30.3,0) scale(0.97,1) translate(-30.3,0)" class="t">0.6</text>
<text x="192.2" y="264.8" font-size="8.6" text-anchor="middle" transform="translate(192.2,0) scale(0.97,1) translate(-192.2,0)" class="t">0.7</text>
<text x="30.3" y="85.5" font-size="8.6" text-anchor="end" transform="translate(30.3,0) scale(0.97,1) translate(-30.3,0)" class="t">0.7</text>
<text x="215.0" y="264.8" font-size="8.6" text-anchor="middle" transform="translate(215.0,0) scale(0.97,1) translate(-215.0,0)" class="t">0.8</text>
<text x="30.3" y="60.8" font-size="8.6" text-anchor="end" transform="translate(30.3,0) scale(0.97,1) translate(-30.3,0)" class="t">0.8</text>
<text x="237.8" y="264.8" font-size="8.6" text-anchor="middle" transform="translate(237.8,0) scale(0.97,1) translate(-237.8,0)" class="t">0.9</text>
<text x="30.3" y="36.0" font-size="8.6" text-anchor="end" transform="translate(30.3,0) scale(0.97,1) translate(-30.3,0)" class="t">0.9</text>
<text x="260.6" y="264.8" font-size="8.6" text-anchor="middle" transform="translate(260.6,0) scale(0.97,1) translate(-260.6,0)" class="t">1.0</text>
<text x="30.3" y="11.3" font-size="8.6" text-anchor="end" transform="translate(30.3,0) scale(0.97,1) translate(-30.3,0)" class="t">1.0</text>
<line x1="335.3" y1="8.3" x2="335.3" y2="253.3" class="g"/>
<line x1="312.5" y1="228.8" x2="540.6" y2="228.8" class="g"/>
<line x1="358.1" y1="8.3" x2="358.1" y2="253.3" class="g"/>
<line x1="312.5" y1="204.3" x2="540.6" y2="204.3" class="g"/>
<line x1="380.9" y1="8.3" x2="380.9" y2="253.3" class="g"/>
<line x1="312.5" y1="179.8" x2="540.6" y2="179.8" class="g"/>
<line x1="403.7" y1="8.3" x2="403.7" y2="253.3" class="g"/>
<line x1="312.5" y1="155.3" x2="540.6" y2="155.3" class="g"/>
<line x1="426.6" y1="8.3" x2="426.6" y2="253.3" class="g"/>
<line x1="312.5" y1="130.8" x2="540.6" y2="130.8" class="g"/>
<line x1="449.4" y1="8.3" x2="449.4" y2="253.3" class="g"/>
<line x1="312.5" y1="106.3" x2="540.6" y2="106.3" class="g"/>
<line x1="472.2" y1="8.3" x2="472.2" y2="253.3" class="g"/>
<line x1="312.5" y1="81.8" x2="540.6" y2="81.8" class="g"/>
<line x1="495.0" y1="8.3" x2="495.0" y2="253.3" class="g"/>
<line x1="312.5" y1="57.3" x2="540.6" y2="57.3" class="g"/>
<line x1="517.8" y1="8.3" x2="517.8" y2="253.3" class="g"/>
<line x1="312.5" y1="32.8" x2="540.6" y2="32.8" class="g"/>
<rect x="319.5" y="166" width="112.5" height="86.5" fill="#fff"/>
<rect x="312.5" y="8.3" width="228.1" height="245.0" class="bd"/>
<path d="M344.3,15.9 L346.3,16.1 L348.3,16.3 L350.2,16.5 L352.1,16.8 L354.0,17.1 L355.9,17.4 L357.8,17.7 L359.6,18.0 L361.4,18.4 L363.2,18.8 L365.0,19.2 L366.7,19.6 L368.5,20.1 L370.2,20.5 L371.9,21.0 L373.6,21.5 L375.3,22.0 L377.0,22.5 L378.6,23.0 L380.3,23.5 L381.9,24.1 L383.5,24.6 L385.2,25.2 L386.8,25.7 L388.4,26.3 L390.0,26.9 L391.6,27.4 L393.2,28.0 L394.8,28.6 L396.4,29.2 L398.0,29.8 L399.5,30.4 L401.1,31.0 L402.7,31.6 L404.2,32.2 L405.8,32.9 L407.3,33.5 L408.8,34.2 L410.4,34.8 L411.9,35.5 L413.4,36.2 L414.9,36.9 L416.4,37.6 L417.8,38.3 L419.3,39.0 L420.7,39.7 L422.2,40.5 L423.6,41.2 L425.0,42.0 L426.4,42.8 L427.8,43.5 L429.2,44.4 L430.5,45.2 L431.9,46.0 L433.2,46.8 L434.6,47.7 L435.9,48.6 L437.2,49.4 L438.5,50.3 L439.7,51.2 L441.0,52.1 L442.3,53.1 L443.5,54.0 L444.7,55.0 L445.9,55.9 L447.2,56.9 L448.4,57.9 L449.5,58.9 L450.7,59.9 L451.9,60.9 L453.0,61.9 L454.2,62.9 L455.3,64.0 L456.4,65.1 L457.5,66.1 L458.6,67.2 L459.7,68.3 L460.8,69.4 L461.8,70.5 L462.9,71.7 L463.9,72.8 L465.0,73.9 L466.0,75.1 L467.0,76.3 L468.0,77.4 L469.0,78.6 L470.0,79.8 L471.0,81.0 L471.9,82.2 L472.9,83.5 L473.8,84.7 L474.8,85.9 L475.7,87.2 L476.6,88.5 L477.5,89.7 L478.4,91.0 L479.3,92.3 L480.2,93.6 L481.0,94.9 L481.9,96.2 L482.7,97.6 L483.6,98.9 L484.4,100.3 L485.3,101.6 L486.1,103.0 L486.9,104.3 L487.7,105.7 L488.5,107.1 L489.3,108.5 L490.0,109.9 L490.8,111.3 L491.6,112.7 L492.3,114.1 L493.1,115.6 L493.8,117.0 L494.5,118.5 L495.3,119.9 L496.0,121.4 L496.7,122.8 L497.4,124.3 L498.1,125.8 L498.8,127.3 L499.5,128.8 L500.2,130.3 L500.8,131.8 L501.5,133.3 L502.2,134.8 L502.8,136.3 L503.5,137.9 L504.1,139.4 L504.8,140.9 L505.4,142.5 L506.0,144.0 L506.6,145.6 L507.3,147.2 L507.9,148.7 L508.5,150.3 L509.1,151.9 L509.7,153.5 L510.3,155.0 L510.9,156.6 L511.4,158.2 L512.0,159.8 L512.6,161.4 L513.2,163.0 L513.7,164.7 L514.3,166.3 L514.8,167.9 L515.4,169.5 L516.0,171.2 L516.5,172.8 L517.0,174.4 L517.6,176.1 L518.1,177.7 L518.7,179.3 L519.2,181.0 L519.7,182.6 L520.2,184.3 L520.8,186.0 L521.3,187.6 L521.8,189.3 L522.3,190.9 L522.8,192.6 L523.3,194.3 L523.8,196.0 L524.4,197.6 L524.9,199.3 L525.4,201.0 L525.9,202.7 L526.4,204.3 L526.9,206.0 L527.4,207.7 L527.9,209.4 L528.3,211.1 L528.8,212.8 L529.3,214.4 L529.8,216.1 L530.3,217.8 L530.8,219.5 L531.3,221.2 L531.8,222.9 L532.3,224.6 L532.8,226.3 L533.2,228.0 L533.7,229.7 L534.2,231.4 L534.7,233.0 L535.2,234.7 L535.7,236.4 L536.2,238.1 L536.7,239.8 L537.1,241.5 L537.6,243.2 L538.1,244.9 L538.6,246.6 L539.1,248.3 L539.6,249.9 L540.1,251.6 L540.6,253.3" stroke="#8aa4b4" class="c" stroke-width="1.15"/>
<path d="M352.5,24.1 L354.5,24.2 L356.4,24.4 L358.4,24.5 L360.3,24.7 L362.2,24.9 L364.2,25.0 L366.1,25.2 L368.0,25.4 L369.9,25.6 L371.8,25.8 L373.7,26.0 L375.5,26.2 L377.4,26.5 L379.3,26.7 L381.1,26.9 L383.0,27.2 L384.8,27.5 L386.6,27.7 L388.4,28.0 L390.2,28.3 L392.0,28.6 L393.8,28.9 L395.6,29.2 L397.4,29.6 L399.1,29.9 L400.9,30.3 L402.6,30.6 L404.3,31.0 L406.0,31.4 L407.7,31.8 L409.4,32.2 L411.1,32.6 L412.8,33.0 L414.4,33.5 L416.0,34.0 L417.7,34.4 L419.3,34.9 L420.9,35.4 L422.5,35.9 L424.0,36.4 L425.6,37.0 L427.2,37.5 L428.7,38.1 L430.2,38.6 L431.7,39.2 L433.2,39.8 L434.7,40.4 L436.2,41.1 L437.7,41.7 L439.1,42.3 L440.5,43.0 L442.0,43.7 L443.4,44.4 L444.8,45.1 L446.1,45.8 L447.5,46.5 L448.9,47.3 L450.2,48.0 L451.5,48.8 L452.8,49.6 L454.1,50.4 L455.4,51.2 L456.7,52.0 L457.9,52.9 L459.2,53.7 L460.4,54.6 L461.6,55.5 L462.8,56.4 L464.0,57.3 L465.2,58.2 L466.4,59.1 L467.5,60.1 L468.6,61.0 L469.8,62.0 L470.9,63.0 L471.9,64.0 L473.0,65.0 L474.1,66.1 L475.1,67.1 L476.2,68.2 L477.2,69.2 L478.2,70.3 L479.2,71.4 L480.2,72.5 L481.2,73.6 L482.2,74.8 L483.1,75.9 L484.1,77.0 L485.0,78.2 L486.0,79.4 L486.9,80.5 L487.8,81.7 L488.7,82.9 L489.6,84.1 L490.5,85.4 L491.3,86.6 L492.2,87.8 L493.0,89.1 L493.9,90.3 L494.7,91.6 L495.5,92.9 L496.3,94.2 L497.1,95.5 L497.9,96.8 L498.7,98.1 L499.5,99.4 L500.3,100.7 L501.0,102.0 L501.8,103.4 L502.5,104.7 L503.3,106.1 L504.0,107.5 L504.7,108.8 L505.4,110.2 L506.2,111.6 L506.9,113.0 L507.6,114.4 L508.2,115.8 L508.9,117.2 L509.6,118.6 L510.3,120.1 L510.9,121.5 L511.6,123.0 L512.2,124.4 L512.8,125.9 L513.5,127.4 L514.1,128.8 L514.7,130.3 L515.3,131.8 L515.9,133.3 L516.5,134.8 L517.0,136.4 L517.6,137.9 L518.2,139.4 L518.7,141.0 L519.3,142.5 L519.8,144.1 L520.3,145.7 L520.8,147.3 L521.3,148.8 L521.8,150.4 L522.3,152.0 L522.8,153.6 L523.3,155.3 L523.8,156.9 L524.2,158.5 L524.7,160.2 L525.2,161.8 L525.6,163.5 L526.0,165.1 L526.5,166.8 L526.9,168.5 L527.3,170.1 L527.7,171.8 L528.1,173.5 L528.5,175.2 L528.9,176.9 L529.3,178.6 L529.7,180.4 L530.0,182.1 L530.4,183.8 L530.8,185.5 L531.1,187.3 L531.5,189.0 L531.8,190.8 L532.2,192.5 L532.5,194.3 L532.8,196.1 L533.1,197.9 L533.4,199.6 L533.8,201.4 L534.1,203.2 L534.4,205.0 L534.7,206.8 L534.9,208.6 L535.2,210.4 L535.5,212.3 L535.8,214.1 L536.1,215.9 L536.3,217.7 L536.6,219.6 L536.8,221.4 L537.1,223.3 L537.3,225.1 L537.6,227.0 L537.8,228.8 L538.1,230.7 L538.3,232.5 L538.5,234.4 L538.7,236.3 L539.0,238.2 L539.2,240.0 L539.4,241.9 L539.6,243.8 L539.8,245.7 L540.0,247.6 L540.2,249.5 L540.4,251.4 L540.6,253.3" stroke="#a6cc3a" class="c" stroke-width="1.45"/>
<path d="M356.3,22.5 L358.2,22.7 L360.1,22.9 L362.0,23.0 L363.9,23.2 L365.8,23.4 L367.7,23.6 L369.6,23.8 L371.4,24.1 L373.3,24.3 L375.1,24.5 L377.0,24.8 L378.8,25.0 L380.7,25.3 L382.5,25.5 L384.3,25.8 L386.1,26.1 L387.9,26.4 L389.7,26.7 L391.5,27.0 L393.2,27.3 L395.0,27.6 L396.8,27.9 L398.5,28.3 L400.2,28.6 L402.0,29.0 L403.7,29.4 L405.4,29.7 L407.1,30.1 L408.8,30.5 L410.5,30.9 L412.1,31.3 L413.8,31.8 L415.4,32.2 L417.1,32.7 L418.7,33.1 L420.3,33.6 L421.9,34.1 L423.5,34.5 L425.1,35.0 L426.7,35.6 L428.2,36.1 L429.8,36.6 L431.3,37.2 L432.9,37.7 L434.4,38.3 L435.9,38.8 L437.4,39.4 L438.9,40.0 L440.4,40.6 L441.8,41.3 L443.3,41.9 L444.7,42.6 L446.1,43.2 L447.6,43.9 L449.0,44.6 L450.3,45.3 L451.7,46.0 L453.1,46.7 L454.4,47.4 L455.8,48.2 L457.1,48.9 L458.4,49.7 L459.7,50.5 L461.0,51.3 L462.3,52.1 L463.5,52.9 L464.8,53.8 L466.0,54.6 L467.2,55.5 L468.4,56.4 L469.6,57.3 L470.8,58.2 L472.0,59.1 L473.1,60.1 L474.2,61.0 L475.4,62.0 L476.5,63.0 L477.5,64.0 L478.6,65.0 L479.7,66.0 L480.7,67.0 L481.8,68.1 L482.8,69.1 L483.8,70.2 L484.8,71.3 L485.8,72.4 L486.7,73.5 L487.7,74.7 L488.6,75.8 L489.6,77.0 L490.5,78.1 L491.4,79.3 L492.3,80.5 L493.2,81.7 L494.0,82.9 L494.9,84.1 L495.8,85.4 L496.6,86.6 L497.4,87.9 L498.2,89.2 L499.0,90.5 L499.8,91.8 L500.6,93.1 L501.3,94.4 L502.1,95.7 L502.8,97.1 L503.6,98.4 L504.3,99.8 L505.0,101.2 L505.7,102.5 L506.4,103.9 L507.1,105.3 L507.8,106.8 L508.4,108.2 L509.1,109.6 L509.7,111.1 L510.3,112.5 L511.0,114.0 L511.6,115.4 L512.2,116.9 L512.8,118.4 L513.4,119.9 L513.9,121.4 L514.5,122.9 L515.1,124.5 L515.6,126.0 L516.2,127.5 L516.7,129.1 L517.2,130.7 L517.7,132.2 L518.3,133.8 L518.8,135.4 L519.3,137.0 L519.7,138.6 L520.2,140.2 L520.7,141.8 L521.2,143.4 L521.6,145.0 L522.1,146.7 L522.5,148.3 L522.9,150.0 L523.4,151.6 L523.8,153.3 L524.2,155.0 L524.6,156.6 L525.0,158.3 L525.4,160.0 L525.8,161.7 L526.2,163.4 L526.6,165.1 L527.0,166.8 L527.3,168.5 L527.7,170.2 L528.1,172.0 L528.4,173.7 L528.8,175.4 L529.1,177.2 L529.5,178.9 L529.8,180.7 L530.1,182.4 L530.4,184.2 L530.8,186.0 L531.1,187.7 L531.4,189.5 L531.7,191.3 L532.0,193.1 L532.3,194.8 L532.6,196.6 L532.9,198.4 L533.2,200.2 L533.5,202.0 L533.8,203.8 L534.0,205.6 L534.3,207.4 L534.6,209.3 L534.9,211.1 L535.1,212.9 L535.4,214.7 L535.7,216.5 L535.9,218.4 L536.2,220.2 L536.4,222.0 L536.7,223.8 L536.9,225.7 L537.2,227.5 L537.4,229.3 L537.7,231.2 L537.9,233.0 L538.2,234.9 L538.4,236.7 L538.7,238.5 L538.9,240.4 L539.2,242.2 L539.4,244.1 L539.6,245.9 L539.9,247.8 L540.1,249.6 L540.4,251.5 L540.6,253.3" stroke="#f9a544" class="c" stroke-width="1.35"/>
<path d="M355.7,17.5 L357.7,17.6 L359.7,17.7 L361.8,17.8 L363.8,17.9 L365.8,18.0 L367.8,18.1 L369.8,18.2 L371.7,18.4 L373.7,18.5 L375.7,18.7 L377.6,18.8 L379.6,19.0 L381.5,19.2 L383.5,19.3 L385.4,19.5 L387.3,19.7 L389.2,19.9 L391.1,20.1 L393.0,20.4 L394.9,20.6 L396.8,20.8 L398.6,21.1 L400.5,21.4 L402.3,21.6 L404.2,21.9 L406.0,22.2 L407.8,22.5 L409.6,22.8 L411.4,23.1 L413.2,23.4 L415.0,23.8 L416.7,24.1 L418.5,24.5 L420.2,24.8 L422.0,25.2 L423.7,25.6 L425.4,26.0 L427.1,26.4 L428.8,26.9 L430.5,27.3 L432.1,27.7 L433.8,28.2 L435.4,28.7 L437.1,29.1 L438.7,29.6 L440.3,30.1 L441.9,30.6 L443.5,31.2 L445.1,31.7 L446.6,32.3 L448.2,32.8 L449.7,33.4 L451.2,34.0 L452.8,34.6 L454.3,35.2 L455.7,35.8 L457.2,36.5 L458.7,37.1 L460.1,37.8 L461.6,38.5 L463.0,39.2 L464.4,39.9 L465.8,40.6 L467.1,41.4 L468.5,42.1 L469.9,42.9 L471.2,43.6 L472.5,44.4 L473.8,45.2 L475.1,46.1 L476.4,46.9 L477.7,47.8 L478.9,48.6 L480.1,49.5 L481.4,50.4 L482.6,51.3 L483.7,52.2 L484.9,53.2 L486.1,54.1 L487.2,55.1 L488.3,56.1 L489.4,57.1 L490.5,58.1 L491.6,59.2 L492.7,60.2 L493.7,61.3 L494.7,62.4 L495.8,63.5 L496.8,64.6 L497.7,65.7 L498.7,66.9 L499.6,68.0 L500.6,69.2 L501.5,70.4 L502.4,71.6 L503.3,72.9 L504.2,74.1 L505.0,75.4 L505.9,76.6 L506.7,77.9 L507.5,79.2 L508.3,80.5 L509.1,81.8 L509.9,83.2 L510.6,84.5 L511.4,85.9 L512.1,87.3 L512.8,88.7 L513.6,90.1 L514.2,91.5 L514.9,92.9 L515.6,94.4 L516.3,95.8 L516.9,97.3 L517.5,98.8 L518.1,100.3 L518.8,101.8 L519.3,103.3 L519.9,104.8 L520.5,106.4 L521.1,107.9 L521.6,109.5 L522.2,111.1 L522.7,112.7 L523.2,114.3 L523.7,115.9 L524.2,117.5 L524.7,119.1 L525.2,120.8 L525.6,122.4 L526.1,124.1 L526.5,125.7 L526.9,127.4 L527.4,129.1 L527.8,130.8 L528.2,132.5 L528.6,134.2 L529.0,136.0 L529.3,137.7 L529.7,139.5 L530.1,141.2 L530.4,143.0 L530.8,144.7 L531.1,146.5 L531.4,148.3 L531.7,150.1 L532.1,151.9 L532.4,153.7 L532.7,155.5 L532.9,157.4 L533.2,159.2 L533.5,161.0 L533.8,162.9 L534.0,164.8 L534.3,166.6 L534.5,168.5 L534.7,170.4 L535.0,172.2 L535.2,174.1 L535.4,176.0 L535.6,177.9 L535.8,179.8 L536.0,181.8 L536.2,183.7 L536.4,185.6 L536.6,187.5 L536.8,189.5 L537.0,191.4 L537.1,193.3 L537.3,195.3 L537.5,197.2 L537.6,199.2 L537.8,201.2 L537.9,203.1 L538.1,205.1 L538.2,207.1 L538.3,209.1 L538.5,211.0 L538.6,213.0 L538.7,215.0 L538.8,217.0 L538.9,219.0 L539.1,221.0 L539.2,223.0 L539.3,225.0 L539.4,227.0 L539.5,229.0 L539.6,231.1 L539.7,233.1 L539.8,235.1 L539.9,237.1 L540.0,239.1 L540.1,241.1 L540.2,243.2 L540.2,245.2 L540.3,247.2 L540.4,249.3 L540.5,251.3 L540.6,253.3" stroke="#1e9a55" class="c" stroke-width="1.50"/>
<path d="M358.5,20.8 L360.3,21.1 L362.0,21.4 L363.8,21.7 L365.6,22.0 L367.5,22.2 L369.3,22.5 L371.1,22.7 L373.0,23.0 L374.9,23.2 L376.7,23.4 L378.6,23.6 L380.5,23.8 L382.4,24.0 L384.3,24.2 L386.2,24.4 L388.1,24.6 L389.9,24.8 L391.8,25.0 L393.7,25.2 L395.6,25.4 L397.5,25.6 L399.3,25.8 L401.2,26.0 L403.1,26.2 L404.9,26.5 L406.8,26.7 L408.6,27.0 L410.4,27.3 L412.2,27.5 L414.0,27.8 L415.7,28.2 L417.5,28.5 L419.2,28.8 L420.9,29.2 L422.6,29.6 L424.3,30.0 L426.0,30.4 L427.6,30.9 L429.2,31.3 L430.8,31.8 L432.4,32.3 L434.0,32.8 L435.6,33.3 L437.1,33.9 L438.6,34.4 L440.2,35.0 L441.7,35.6 L443.1,36.2 L444.6,36.8 L446.0,37.4 L447.5,38.1 L448.9,38.7 L450.3,39.4 L451.7,40.1 L453.1,40.8 L454.4,41.6 L455.8,42.3 L457.1,43.1 L458.4,43.8 L459.7,44.6 L461.0,45.4 L462.2,46.2 L463.5,47.1 L464.7,47.9 L465.9,48.8 L467.2,49.7 L468.3,50.5 L469.5,51.4 L470.7,52.4 L471.8,53.3 L473.0,54.2 L474.1,55.2 L475.2,56.2 L476.3,57.2 L477.4,58.2 L478.5,59.2 L479.5,60.2 L480.6,61.2 L481.6,62.3 L482.6,63.4 L483.6,64.5 L484.6,65.5 L485.6,66.7 L486.5,67.8 L487.5,68.9 L488.4,70.0 L489.4,71.2 L490.3,72.4 L491.2,73.6 L492.1,74.7 L492.9,76.0 L493.8,77.2 L494.7,78.4 L495.5,79.6 L496.3,80.9 L497.2,82.2 L498.0,83.4 L498.8,84.7 L499.5,86.0 L500.3,87.3 L501.1,88.6 L501.8,90.0 L502.6,91.3 L503.3,92.7 L504.0,94.0 L504.8,95.4 L505.5,96.8 L506.1,98.2 L506.8,99.6 L507.5,101.0 L508.2,102.4 L508.8,103.8 L509.5,105.3 L510.1,106.7 L510.7,108.2 L511.3,109.7 L511.9,111.1 L512.5,112.6 L513.1,114.1 L513.7,115.6 L514.3,117.1 L514.8,118.7 L515.4,120.2 L515.9,121.7 L516.5,123.3 L517.0,124.8 L517.5,126.4 L518.0,128.0 L518.5,129.5 L519.0,131.1 L519.5,132.7 L520.0,134.3 L520.5,135.9 L520.9,137.6 L521.4,139.2 L521.8,140.8 L522.3,142.5 L522.7,144.1 L523.1,145.8 L523.6,147.4 L524.0,149.1 L524.4,150.7 L524.8,152.4 L525.2,154.1 L525.6,155.8 L526.0,157.5 L526.4,159.2 L526.7,160.9 L527.1,162.6 L527.5,164.3 L527.8,166.1 L528.2,167.8 L528.5,169.5 L528.9,171.3 L529.2,173.0 L529.5,174.8 L529.9,176.5 L530.2,178.3 L530.5,180.1 L530.8,181.8 L531.1,183.6 L531.4,185.4 L531.7,187.2 L532.0,189.0 L532.3,190.8 L532.6,192.5 L532.9,194.3 L533.2,196.2 L533.4,198.0 L533.7,199.8 L534.0,201.6 L534.2,203.4 L534.5,205.2 L534.8,207.0 L535.0,208.9 L535.3,210.7 L535.5,212.5 L535.8,214.4 L536.0,216.2 L536.3,218.0 L536.5,219.9 L536.8,221.7 L537.0,223.6 L537.2,225.4 L537.5,227.3 L537.7,229.1 L537.9,231.0 L538.2,232.8 L538.4,234.7 L538.6,236.5 L538.8,238.4 L539.1,240.3 L539.3,242.1 L539.5,244.0 L539.7,245.8 L539.9,247.7 L540.2,249.6 L540.4,251.4 L540.6,253.3" stroke="#22b0e4" class="c" stroke-width="1.55"/>
<path d="M344.3,15.9 L346.2,16.1 L348.2,16.4 L350.1,16.6 L352.1,16.8 L354.1,17.0 L356.1,17.2 L358.0,17.4 L360.0,17.6 L362.0,17.8 L364.0,18.0 L366.0,18.2 L368.0,18.3 L370.0,18.5 L372.0,18.7 L374.0,18.9 L376.0,19.0 L378.1,19.2 L380.1,19.4 L382.1,19.5 L384.1,19.7 L386.1,19.9 L388.1,20.1 L390.0,20.3 L392.0,20.5 L394.0,20.7 L396.0,20.9 L398.0,21.1 L399.9,21.3 L401.9,21.5 L403.8,21.8 L405.8,22.0 L407.7,22.3 L409.6,22.5 L411.5,22.8 L413.4,23.1 L415.3,23.4 L417.1,23.7 L419.0,24.0 L420.8,24.4 L422.7,24.7 L424.5,25.1 L426.3,25.5 L428.1,25.8 L429.9,26.2 L431.6,26.6 L433.4,27.1 L435.1,27.5 L436.9,27.9 L438.6,28.4 L440.3,28.8 L442.0,29.3 L443.7,29.8 L445.4,30.3 L447.1,30.8 L448.8,31.3 L450.5,31.8 L452.1,32.3 L453.8,32.8 L455.4,33.4 L457.0,33.9 L458.6,34.5 L460.2,35.1 L461.8,35.7 L463.4,36.3 L464.9,36.9 L466.5,37.6 L468.0,38.2 L469.5,38.9 L471.0,39.6 L472.5,40.3 L474.0,41.0 L475.4,41.7 L476.8,42.5 L478.2,43.2 L479.6,44.0 L481.0,44.8 L482.3,45.7 L483.7,46.5 L485.0,47.4 L486.3,48.3 L487.5,49.2 L488.8,50.1 L490.0,51.1 L491.2,52.1 L492.4,53.1 L493.5,54.1 L494.6,55.2 L495.7,56.3 L496.8,57.4 L497.8,58.5 L498.9,59.7 L499.9,60.8 L500.8,62.1 L501.8,63.3 L502.7,64.6 L503.6,65.8 L504.5,67.1 L505.3,68.5 L506.1,69.8 L507.0,71.2 L507.8,72.6 L508.5,74.0 L509.3,75.4 L510.1,76.8 L510.8,78.2 L511.5,79.7 L512.2,81.1 L513.0,82.6 L513.6,84.1 L514.3,85.6 L515.0,87.1 L515.7,88.6 L516.3,90.2 L516.9,91.7 L517.5,93.3 L518.1,94.9 L518.7,96.5 L519.3,98.1 L519.8,99.7 L520.4,101.4 L520.9,103.0 L521.4,104.7 L521.9,106.4 L522.3,108.1 L522.8,109.9 L523.2,111.6 L523.6,113.4 L524.0,115.2 L524.4,117.0 L524.7,118.8 L525.1,120.6 L525.4,122.5 L525.7,124.3 L526.1,126.2 L526.4,128.0 L526.7,129.9 L527.0,131.8 L527.3,133.7 L527.5,135.6 L527.8,137.5 L528.1,139.4 L528.3,141.3 L528.6,143.3 L528.8,145.2 L529.1,147.1 L529.3,149.1 L529.6,151.0 L529.8,152.9 L530.0,154.9 L530.3,156.8 L530.5,158.8 L530.7,160.7 L530.9,162.7 L531.2,164.7 L531.4,166.6 L531.6,168.6 L531.8,170.6 L532.0,172.5 L532.2,174.5 L532.5,176.4 L532.7,178.4 L532.9,180.4 L533.1,182.3 L533.3,184.3 L533.6,186.2 L533.8,188.2 L534.0,190.1 L534.3,192.1 L534.5,194.0 L534.7,196.0 L535.0,197.9 L535.2,199.8 L535.5,201.8 L535.7,203.7 L536.0,205.6 L536.3,207.5 L536.5,209.4 L536.8,211.3 L537.1,213.3 L537.3,215.2 L537.6,217.1 L537.8,219.0 L538.1,220.9 L538.3,222.9 L538.6,224.8 L538.8,226.8 L539.0,228.7 L539.2,230.7 L539.4,232.7 L539.6,234.7 L539.8,236.7 L539.9,238.7 L540.1,240.7 L540.2,242.8 L540.3,244.8 L540.4,246.9 L540.5,249.0 L540.6,251.2 L540.6,253.3" stroke="#6f5e7c" class="c" stroke-width="1.30"/>
<path d="M352.5,14.3 L354.5,14.5 L356.5,14.6 L358.5,14.8 L360.4,14.9 L362.4,15.1 L364.4,15.3 L366.4,15.4 L368.4,15.6 L370.4,15.7 L372.3,15.9 L374.3,16.1 L376.3,16.2 L378.3,16.4 L380.3,16.6 L382.2,16.8 L384.2,16.9 L386.2,17.1 L388.1,17.3 L390.1,17.5 L392.0,17.7 L394.0,17.9 L395.9,18.1 L397.9,18.3 L399.8,18.5 L401.7,18.7 L403.7,18.9 L405.6,19.2 L407.5,19.4 L409.4,19.6 L411.3,19.9 L413.2,20.1 L415.1,20.4 L417.0,20.7 L418.8,20.9 L420.7,21.2 L422.5,21.5 L424.4,21.8 L426.2,22.1 L428.1,22.4 L429.9,22.8 L431.7,23.1 L433.5,23.4 L435.3,23.8 L437.1,24.2 L438.8,24.5 L440.6,24.9 L442.3,25.3 L444.1,25.7 L445.8,26.2 L447.5,26.6 L449.2,27.0 L450.9,27.5 L452.6,28.0 L454.2,28.5 L455.9,29.0 L457.5,29.5 L459.1,30.0 L460.7,30.5 L462.3,31.1 L463.9,31.7 L465.5,32.2 L467.0,32.8 L468.6,33.4 L470.1,34.1 L471.6,34.7 L473.1,35.4 L474.5,36.1 L476.0,36.7 L477.4,37.5 L478.9,38.2 L480.3,38.9 L481.6,39.7 L483.0,40.5 L484.4,41.3 L485.7,42.1 L487.0,42.9 L488.3,43.8 L489.6,44.7 L490.8,45.5 L492.0,46.5 L493.3,47.4 L494.4,48.3 L495.6,49.3 L496.8,50.3 L497.9,51.3 L499.0,52.4 L500.1,53.4 L501.2,54.5 L502.2,55.6 L503.2,56.7 L504.2,57.9 L505.2,59.1 L506.1,60.3 L507.1,61.5 L508.0,62.7 L508.8,64.0 L509.7,65.3 L510.5,66.6 L511.4,67.9 L512.2,69.3 L512.9,70.6 L513.7,72.0 L514.4,73.4 L515.1,74.9 L515.8,76.3 L516.5,77.8 L517.2,79.3 L517.8,80.8 L518.4,82.3 L519.0,83.9 L519.6,85.4 L520.2,87.0 L520.7,88.6 L521.3,90.2 L521.8,91.8 L522.3,93.5 L522.8,95.1 L523.3,96.8 L523.7,98.5 L524.2,100.1 L524.6,101.9 L525.1,103.6 L525.5,105.3 L525.9,107.0 L526.3,108.8 L526.7,110.6 L527.0,112.3 L527.4,114.1 L527.7,115.9 L528.1,117.7 L528.4,119.5 L528.7,121.4 L529.1,123.2 L529.4,125.0 L529.7,126.9 L530.0,128.7 L530.2,130.6 L530.5,132.5 L530.8,134.3 L531.1,136.2 L531.3,138.1 L531.6,140.0 L531.8,141.9 L532.1,143.8 L532.3,145.7 L532.5,147.6 L532.8,149.5 L533.0,151.4 L533.2,153.4 L533.4,155.3 L533.6,157.2 L533.8,159.2 L534.0,161.1 L534.2,163.1 L534.4,165.0 L534.6,167.0 L534.8,169.0 L535.0,170.9 L535.2,172.9 L535.3,174.9 L535.5,176.9 L535.7,178.8 L535.8,180.8 L536.0,182.8 L536.1,184.8 L536.3,186.8 L536.4,188.8 L536.6,190.8 L536.7,192.8 L536.9,194.8 L537.0,196.8 L537.2,198.8 L537.3,200.8 L537.4,202.8 L537.6,204.8 L537.7,206.8 L537.8,208.9 L538.0,210.9 L538.1,212.9 L538.2,214.9 L538.3,216.9 L538.5,219.0 L538.6,221.0 L538.7,223.0 L538.8,225.0 L539.0,227.0 L539.1,229.1 L539.2,231.1 L539.3,233.1 L539.5,235.1 L539.6,237.2 L539.7,239.2 L539.8,241.2 L540.0,243.2 L540.1,245.2 L540.2,247.3 L540.3,249.3 L540.5,251.3 L540.6,253.3" stroke="#fcd3a6" class="c" stroke-width="1.20"/>
<path d="M343.7,12.1 L345.8,12.2 L347.9,12.3 L350.0,12.4 L352.1,12.6 L354.1,12.7 L356.2,12.8 L358.3,12.9 L360.4,13.0 L362.5,13.1 L364.5,13.3 L366.6,13.4 L368.7,13.5 L370.8,13.7 L372.8,13.8 L374.9,13.9 L376.9,14.1 L379.0,14.2 L381.0,14.4 L383.1,14.6 L385.1,14.7 L387.1,14.9 L389.2,15.1 L391.2,15.2 L393.2,15.4 L395.2,15.6 L397.2,15.8 L399.2,16.0 L401.2,16.2 L403.2,16.5 L405.2,16.7 L407.1,16.9 L409.1,17.1 L411.1,17.4 L413.0,17.7 L414.9,17.9 L416.9,18.2 L418.8,18.5 L420.7,18.8 L422.6,19.1 L424.5,19.4 L426.4,19.7 L428.2,20.0 L430.1,20.4 L432.0,20.7 L433.8,21.1 L435.6,21.4 L437.5,21.8 L439.3,22.2 L441.1,22.6 L442.8,23.0 L444.6,23.5 L446.4,23.9 L448.1,24.4 L449.9,24.8 L451.6,25.3 L453.3,25.8 L455.0,26.3 L456.7,26.8 L458.4,27.3 L460.0,27.9 L461.6,28.4 L463.3,29.0 L464.9,29.6 L466.5,30.2 L468.1,30.8 L469.6,31.5 L471.2,32.1 L472.7,32.8 L474.2,33.5 L475.7,34.2 L477.2,34.9 L478.7,35.6 L480.2,36.3 L481.6,37.1 L483.0,37.9 L484.4,38.7 L485.8,39.5 L487.2,40.3 L488.5,41.2 L489.8,42.1 L491.2,43.0 L492.4,43.9 L493.7,44.8 L495.0,45.8 L496.2,46.7 L497.4,47.7 L498.6,48.7 L499.8,49.8 L500.9,50.8 L502.1,51.9 L503.2,53.0 L504.3,54.1 L505.3,55.2 L506.4,56.4 L507.4,57.5 L508.4,58.7 L509.4,60.0 L510.3,61.2 L511.3,62.5 L512.2,63.8 L513.1,65.1 L513.9,66.4 L514.8,67.8 L515.6,69.1 L516.4,70.5 L517.2,71.9 L518.0,73.4 L518.7,74.8 L519.4,76.3 L520.2,77.8 L520.8,79.3 L521.5,80.9 L522.2,82.4 L522.8,84.0 L523.4,85.6 L524.0,87.2 L524.6,88.8 L525.2,90.4 L525.7,92.1 L526.2,93.8 L526.7,95.4 L527.2,97.1 L527.7,98.9 L528.2,100.6 L528.7,102.3 L529.1,104.1 L529.5,105.9 L529.9,107.7 L530.3,109.5 L530.7,111.3 L531.1,113.1 L531.4,115.0 L531.8,116.8 L532.1,118.7 L532.5,120.5 L532.8,122.4 L533.1,124.3 L533.4,126.2 L533.6,128.2 L533.9,130.1 L534.2,132.0 L534.4,134.0 L534.7,136.0 L534.9,137.9 L535.1,139.9 L535.3,141.9 L535.5,143.9 L535.7,145.9 L535.9,147.9 L536.1,149.9 L536.3,152.0 L536.4,154.0 L536.6,156.0 L536.8,158.1 L536.9,160.1 L537.0,162.2 L537.2,164.3 L537.3,166.3 L537.4,168.4 L537.5,170.5 L537.7,172.6 L537.8,174.7 L537.9,176.8 L538.0,178.9 L538.1,181.0 L538.2,183.1 L538.2,185.2 L538.3,187.3 L538.4,189.5 L538.5,191.6 L538.6,193.7 L538.6,195.8 L538.7,198.0 L538.8,200.1 L538.8,202.2 L538.9,204.4 L539.0,206.5 L539.0,208.6 L539.1,210.8 L539.2,212.9 L539.2,215.1 L539.3,217.2 L539.3,219.3 L539.4,221.5 L539.5,223.6 L539.5,225.7 L539.6,227.9 L539.7,230.0 L539.7,232.1 L539.8,234.3 L539.9,236.4 L540.0,238.5 L540.1,240.6 L540.1,242.8 L540.2,244.9 L540.3,247.0 L540.4,249.1 L540.5,251.2 L540.6,253.3" stroke="#e5743f" class="c" stroke-width="1.30"/>
<line x1="327" y1="174.8" x2="337.5" y2="174.8" stroke="#1e9a55" stroke-width="1.45"/>
<text x="344.7" y="176.6" font-size="8.5" class="lg" transform="translate(344.7,0) scale(1.0,1) translate(-344.7,0)">[AUC=0.968]VGG16</text>
<line x1="327" y1="185.7" x2="337.5" y2="185.7" stroke="#a6cc3a" stroke-width="1.45"/>
<text x="344.7" y="187.5" font-size="8.5" class="lg" transform="translate(344.7,0) scale(1.0,1) translate(-344.7,0)">[AUC=0.941]InceptionV4</text>
<line x1="327" y1="196.2" x2="337.5" y2="196.2" stroke="#22b0e4" stroke-width="1.45"/>
<text x="344.7" y="198.0" font-size="8.5" class="lg" transform="translate(344.7,0) scale(1.0,1) translate(-344.7,0)">[AUC=0.958]GoogleNet</text>
<line x1="327" y1="206.5" x2="337.5" y2="206.5" stroke="#8aa4b4" stroke-width="1.45"/>
<text x="344.7" y="208.3" font-size="8.5" class="lg" transform="translate(344.7,0) scale(1.0,1) translate(-344.7,0)">[AUC=0.973]ResNet50</text>
<line x1="327" y1="217.3" x2="337.5" y2="217.3" stroke="#f9a544" stroke-width="1.45"/>
<text x="344.7" y="219.1" font-size="8.5" class="lg" transform="translate(344.7,0) scale(1.0,1) translate(-344.7,0)">[AUC=0.944]AlexNet</text>
<line x1="327" y1="226.6" x2="337.5" y2="226.6" stroke="#6f5e7c" stroke-width="1.45"/>
<text x="344.7" y="228.4" font-size="8.5" class="lg" transform="translate(344.7,0) scale(1.0,1) translate(-344.7,0)">[AUC=0.973]DaViT</text>
<line x1="327" y1="236.0" x2="337.5" y2="236.0" stroke="#fcd3a6" stroke-width="1.45"/>
<text x="344.7" y="237.8" font-size="8.5" class="lg" transform="translate(344.7,0) scale(1.0,1) translate(-344.7,0)">[AUC=0.975]SI-ViT</text>
<line x1="327" y1="245.3" x2="337.5" y2="245.3" stroke="#e5743f" stroke-width="1.45"/>
<text x="344.7" y="247.1" font-size="8.5" class="lg" transform="translate(344.7,0) scale(1.0,1) translate(-344.7,0)">[AUC=0.980]CCTNet</text>
<text x="314.0" y="263.6" font-size="8.6" text-anchor="middle" transform="translate(314.0,0) scale(0.97,1) translate(-314.0,0)" class="t">0.0</text>
<text x="310.3" y="253.7" font-size="8.6" text-anchor="end" transform="translate(310.3,0) scale(0.97,1) translate(-310.3,0)" class="t">0.0</text>
<text x="335.3" y="263.6" font-size="8.6" text-anchor="middle" transform="translate(335.3,0) scale(0.97,1) translate(-335.3,0)" class="t">0.1</text>
<text x="310.3" y="233.5" font-size="8.6" text-anchor="end" transform="translate(310.3,0) scale(0.97,1) translate(-310.3,0)" class="t">0.1</text>
<text x="358.1" y="263.6" font-size="8.6" text-anchor="middle" transform="translate(358.1,0) scale(0.97,1) translate(-358.1,0)" class="t">0.2</text>
<text x="310.3" y="209.0" font-size="8.6" text-anchor="end" transform="translate(310.3,0) scale(0.97,1) translate(-310.3,0)" class="t">0.2</text>
<text x="380.9" y="263.6" font-size="8.6" text-anchor="middle" transform="translate(380.9,0) scale(0.97,1) translate(-380.9,0)" class="t">0.3</text>
<text x="310.3" y="184.5" font-size="8.6" text-anchor="end" transform="translate(310.3,0) scale(0.97,1) translate(-310.3,0)" class="t">0.3</text>
<text x="403.7" y="263.6" font-size="8.6" text-anchor="middle" transform="translate(403.7,0) scale(0.97,1) translate(-403.7,0)" class="t">0.4</text>
<text x="310.3" y="160.0" font-size="8.6" text-anchor="end" transform="translate(310.3,0) scale(0.97,1) translate(-310.3,0)" class="t">0.4</text>
<text x="426.6" y="263.6" font-size="8.6" text-anchor="middle" transform="translate(426.6,0) scale(0.97,1) translate(-426.6,0)" class="t">0.5</text>
<text x="310.3" y="135.5" font-size="8.6" text-anchor="end" transform="translate(310.3,0) scale(0.97,1) translate(-310.3,0)" class="t">0.5</text>
<text x="449.4" y="263.6" font-size="8.6" text-anchor="middle" transform="translate(449.4,0) scale(0.97,1) translate(-449.4,0)" class="t">0.6</text>
<text x="310.3" y="111.0" font-size="8.6" text-anchor="end" transform="translate(310.3,0) scale(0.97,1) translate(-310.3,0)" class="t">0.6</text>
<text x="472.2" y="263.6" font-size="8.6" text-anchor="middle" transform="translate(472.2,0) scale(0.97,1) translate(-472.2,0)" class="t">0.7</text>
<text x="310.3" y="86.5" font-size="8.6" text-anchor="end" transform="translate(310.3,0) scale(0.97,1) translate(-310.3,0)" class="t">0.7</text>
<text x="495.0" y="263.6" font-size="8.6" text-anchor="middle" transform="translate(495.0,0) scale(0.97,1) translate(-495.0,0)" class="t">0.8</text>
<text x="310.3" y="62.0" font-size="8.6" text-anchor="end" transform="translate(310.3,0) scale(0.97,1) translate(-310.3,0)" class="t">0.8</text>
<text x="517.8" y="263.6" font-size="8.6" text-anchor="middle" transform="translate(517.8,0) scale(0.97,1) translate(-517.8,0)" class="t">0.9</text>
<text x="310.3" y="37.5" font-size="8.6" text-anchor="end" transform="translate(310.3,0) scale(0.97,1) translate(-310.3,0)" class="t">0.9</text>
<text x="540.6" y="263.6" font-size="8.6" text-anchor="middle" transform="translate(540.6,0) scale(0.97,1) translate(-540.6,0)" class="t">1.0</text>
<text x="310.3" y="13.0" font-size="8.6" text-anchor="end" transform="translate(310.3,0) scale(0.97,1) translate(-310.3,0)" class="t">1.0</text>
<line x1="185.3" y1="297.2" x2="185.3" y2="520.4" class="g"/>
<line x1="159.5" y1="498.1" x2="417.6" y2="498.1" class="g"/>
<line x1="211.1" y1="297.2" x2="211.1" y2="520.4" class="g"/>
<line x1="159.5" y1="475.8" x2="417.6" y2="475.8" class="g"/>
<line x1="236.9" y1="297.2" x2="236.9" y2="520.4" class="g"/>
<line x1="159.5" y1="453.4" x2="417.6" y2="453.4" class="g"/>
<line x1="262.7" y1="297.2" x2="262.7" y2="520.4" class="g"/>
<line x1="159.5" y1="431.1" x2="417.6" y2="431.1" class="g"/>
<line x1="288.6" y1="297.2" x2="288.6" y2="520.4" class="g"/>
<line x1="159.5" y1="408.8" x2="417.6" y2="408.8" class="g"/>
<line x1="314.4" y1="297.2" x2="314.4" y2="520.4" class="g"/>
<line x1="159.5" y1="386.5" x2="417.6" y2="386.5" class="g"/>
<line x1="340.2" y1="297.2" x2="340.2" y2="520.4" class="g"/>
<line x1="159.5" y1="364.2" x2="417.6" y2="364.2" class="g"/>
<line x1="366.0" y1="297.2" x2="366.0" y2="520.4" class="g"/>
<line x1="159.5" y1="341.8" x2="417.6" y2="341.8" class="g"/>
<line x1="391.8" y1="297.2" x2="391.8" y2="520.4" class="g"/>
<line x1="159.5" y1="319.5" x2="417.6" y2="319.5" class="g"/>
<rect x="167.5" y="438.5" width="130.5" height="81.0" fill="#fff"/>
<rect x="159.5" y="297.2" width="258.1" height="223.2" class="bd"/>
<path d="M212.8,306.2 L214.8,306.3 L216.8,306.4 L218.8,306.6 L220.7,306.7 L222.7,306.8 L224.7,307.0 L226.6,307.1 L228.6,307.3 L230.5,307.5 L232.4,307.6 L234.4,307.8 L236.3,308.0 L238.2,308.2 L240.1,308.4 L242.0,308.6 L243.9,308.8 L245.8,309.0 L247.7,309.2 L249.5,309.5 L251.4,309.7 L253.3,309.9 L255.1,310.2 L257.0,310.4 L258.8,310.7 L260.7,311.0 L262.5,311.2 L264.3,311.5 L266.1,311.8 L268.0,312.1 L269.8,312.4 L271.6,312.7 L273.4,313.0 L275.2,313.3 L276.9,313.7 L278.7,314.0 L280.5,314.3 L282.3,314.6 L284.0,315.0 L285.8,315.3 L287.5,315.7 L289.3,316.1 L291.0,316.4 L292.7,316.8 L294.5,317.2 L296.2,317.6 L297.9,318.0 L299.6,318.4 L301.3,318.8 L303.0,319.2 L304.7,319.6 L306.4,320.0 L308.1,320.4 L309.8,320.8 L311.4,321.3 L313.1,321.7 L314.8,322.2 L316.4,322.6 L318.1,323.1 L319.7,323.5 L321.3,324.0 L323.0,324.5 L324.6,324.9 L326.2,325.4 L327.8,325.9 L329.4,326.4 L331.0,326.9 L332.6,327.5 L334.2,328.0 L335.8,328.5 L337.3,329.1 L338.9,329.6 L340.4,330.2 L341.9,330.8 L343.4,331.4 L345.0,332.0 L346.4,332.6 L347.9,333.2 L349.4,333.8 L350.9,334.5 L352.3,335.1 L353.7,335.8 L355.2,336.5 L356.6,337.2 L358.0,337.9 L359.3,338.6 L360.7,339.4 L362.0,340.1 L363.4,340.9 L364.7,341.7 L366.0,342.5 L367.3,343.3 L368.5,344.2 L369.8,345.0 L371.0,345.9 L372.2,346.8 L373.4,347.7 L374.6,348.6 L375.8,349.6 L376.9,350.5 L378.0,351.5 L379.1,352.5 L380.2,353.5 L381.3,354.6 L382.3,355.7 L383.3,356.7 L384.3,357.8 L385.3,359.0 L386.3,360.1 L387.2,361.3 L388.1,362.5 L389.0,363.7 L389.9,365.0 L390.7,366.2 L391.5,367.5 L392.3,368.8 L393.1,370.1 L393.8,371.5 L394.6,372.9 L395.3,374.3 L396.0,375.7 L396.7,377.1 L397.3,378.6 L397.9,380.0 L398.5,381.5 L399.1,383.1 L399.7,384.6 L400.3,386.1 L400.8,387.7 L401.3,389.3 L401.8,390.9 L402.3,392.5 L402.8,394.1 L403.3,395.8 L403.7,397.4 L404.1,399.1 L404.6,400.8 L405.0,402.5 L405.3,404.2 L405.7,406.0 L406.1,407.7 L406.4,409.5 L406.8,411.2 L407.1,413.0 L407.4,414.8 L407.7,416.6 L408.0,418.4 L408.3,420.2 L408.5,422.1 L408.8,423.9 L409.0,425.8 L409.3,427.6 L409.5,429.5 L409.7,431.4 L410.0,433.3 L410.2,435.2 L410.4,437.1 L410.6,439.0 L410.8,440.9 L410.9,442.8 L411.1,444.8 L411.3,446.7 L411.5,448.6 L411.6,450.6 L411.8,452.5 L411.9,454.5 L412.1,456.4 L412.2,458.4 L412.4,460.3 L412.5,462.3 L412.7,464.3 L412.8,466.2 L412.9,468.2 L413.1,470.2 L413.2,472.1 L413.4,474.1 L413.5,476.1 L413.6,478.0 L413.8,480.0 L413.9,482.0 L414.1,483.9 L414.2,485.9 L414.3,487.9 L414.5,489.8 L414.7,491.8 L414.8,493.7 L415.0,495.7 L415.1,497.6 L415.3,499.5 L415.5,501.5 L415.7,503.4 L415.8,505.3 L416.0,507.2 L416.2,509.1 L416.4,511.0 L416.7,512.9 L416.9,514.8 L417.1,516.7 L417.3,518.5 L417.6,520.4" stroke="#8aa4b4" class="c" stroke-width="1.15"/>
<path d="M205.7,308.4 L207.6,308.6 L209.5,308.8 L211.5,309.0 L213.4,309.2 L215.3,309.4 L217.3,309.6 L219.2,309.8 L221.1,310.0 L223.0,310.2 L224.9,310.5 L226.9,310.7 L228.8,310.9 L230.7,311.1 L232.6,311.3 L234.5,311.6 L236.4,311.8 L238.2,312.1 L240.1,312.3 L242.0,312.6 L243.8,312.9 L245.7,313.2 L247.5,313.5 L249.3,313.8 L251.1,314.1 L252.9,314.4 L254.7,314.8 L256.5,315.1 L258.2,315.5 L260.0,315.9 L261.7,316.3 L263.5,316.7 L265.2,317.1 L266.9,317.5 L268.6,317.9 L270.3,318.4 L272.0,318.8 L273.6,319.3 L275.3,319.8 L276.9,320.3 L278.5,320.8 L280.1,321.3 L281.7,321.8 L283.3,322.4 L284.9,322.9 L286.5,323.5 L288.0,324.1 L289.6,324.6 L291.1,325.2 L292.6,325.8 L294.1,326.5 L295.7,327.1 L297.1,327.7 L298.6,328.4 L300.1,329.0 L301.6,329.7 L303.1,330.3 L304.5,331.0 L306.0,331.7 L307.5,332.3 L308.9,333.0 L310.3,333.7 L311.8,334.4 L313.2,335.1 L314.7,335.8 L316.1,336.5 L317.5,337.2 L319.0,337.9 L320.4,338.6 L321.8,339.3 L323.2,340.0 L324.6,340.7 L326.0,341.4 L327.4,342.2 L328.8,342.9 L330.2,343.7 L331.6,344.4 L332.9,345.2 L334.3,346.0 L335.6,346.8 L336.9,347.6 L338.3,348.4 L339.6,349.2 L340.9,350.0 L342.1,350.9 L343.4,351.8 L344.6,352.7 L345.9,353.6 L347.1,354.5 L348.3,355.4 L349.5,356.3 L350.6,357.3 L351.8,358.3 L352.9,359.3 L354.1,360.3 L355.2,361.3 L356.3,362.3 L357.3,363.4 L358.4,364.4 L359.5,365.5 L360.5,366.6 L361.6,367.7 L362.6,368.8 L363.6,369.9 L364.6,371.1 L365.6,372.2 L366.5,373.4 L367.5,374.5 L368.4,375.7 L369.4,376.9 L370.3,378.1 L371.2,379.3 L372.2,380.5 L373.1,381.7 L374.0,383.0 L374.8,384.2 L375.7,385.5 L376.6,386.7 L377.5,388.0 L378.3,389.3 L379.2,390.5 L380.0,391.8 L380.9,393.1 L381.7,394.4 L382.5,395.7 L383.3,397.1 L384.1,398.4 L384.9,399.7 L385.7,401.1 L386.4,402.5 L387.2,403.8 L387.9,405.2 L388.7,406.6 L389.4,408.0 L390.1,409.5 L390.8,410.9 L391.5,412.3 L392.1,413.8 L392.8,415.3 L393.4,416.8 L394.1,418.3 L394.7,419.8 L395.3,421.3 L395.9,422.8 L396.5,424.4 L397.0,425.9 L397.6,427.5 L398.2,429.1 L398.7,430.7 L399.2,432.3 L399.7,433.9 L400.3,435.5 L400.8,437.1 L401.2,438.8 L401.7,440.4 L402.2,442.1 L402.7,443.7 L403.1,445.4 L403.6,447.1 L404.0,448.8 L404.4,450.5 L404.8,452.2 L405.3,453.9 L405.7,455.7 L406.1,457.4 L406.4,459.1 L406.8,460.9 L407.2,462.6 L407.6,464.4 L408.0,466.1 L408.3,467.9 L408.7,469.7 L409.0,471.5 L409.4,473.2 L409.7,475.0 L410.1,476.8 L410.4,478.6 L410.7,480.4 L411.0,482.2 L411.4,484.0 L411.7,485.8 L412.0,487.6 L412.3,489.5 L412.6,491.3 L413.0,493.1 L413.3,494.9 L413.6,496.7 L413.9,498.5 L414.2,500.4 L414.5,502.2 L414.8,504.0 L415.1,505.8 L415.4,507.7 L415.7,509.5 L416.0,511.3 L416.3,513.1 L416.7,514.9 L417.0,516.8 L417.3,518.6 L417.6,520.4" stroke="#a6cc3a" class="c" stroke-width="1.45"/>
<path d="M200.3,315.7 L202.2,315.9 L204.1,316.1 L206.1,316.3 L208.0,316.5 L209.9,316.7 L211.8,316.9 L213.8,317.1 L215.7,317.3 L217.6,317.5 L219.5,317.7 L221.5,317.9 L223.4,318.1 L225.3,318.2 L227.2,318.5 L229.2,318.7 L231.1,318.9 L233.0,319.1 L234.9,319.3 L236.8,319.5 L238.7,319.7 L240.6,320.0 L242.5,320.2 L244.3,320.4 L246.2,320.7 L248.1,320.9 L249.9,321.2 L251.8,321.5 L253.6,321.8 L255.5,322.0 L257.3,322.3 L259.1,322.6 L260.9,323.0 L262.7,323.3 L264.5,323.6 L266.2,324.0 L268.0,324.3 L269.8,324.7 L271.5,325.1 L273.2,325.5 L275.0,325.9 L276.7,326.3 L278.4,326.7 L280.1,327.1 L281.8,327.6 L283.4,328.0 L285.1,328.4 L286.8,328.9 L288.4,329.4 L290.1,329.9 L291.7,330.3 L293.3,330.8 L294.9,331.3 L296.6,331.8 L298.2,332.4 L299.8,332.9 L301.3,333.4 L302.9,333.9 L304.5,334.5 L306.1,335.0 L307.6,335.6 L309.2,336.2 L310.8,336.7 L312.3,337.3 L313.8,337.9 L315.4,338.5 L316.9,339.0 L318.4,339.6 L320.0,340.2 L321.5,340.9 L323.0,341.5 L324.5,342.1 L325.9,342.7 L327.4,343.4 L328.9,344.1 L330.3,344.7 L331.7,345.4 L333.2,346.1 L334.6,346.8 L336.0,347.6 L337.3,348.3 L338.7,349.1 L340.0,349.8 L341.4,350.6 L342.7,351.5 L344.0,352.3 L345.2,353.1 L346.5,354.0 L347.7,354.9 L348.9,355.8 L350.1,356.8 L351.3,357.7 L352.4,358.7 L353.6,359.7 L354.7,360.7 L355.8,361.7 L356.9,362.7 L357.9,363.8 L359.0,364.8 L360.0,365.9 L361.1,367.0 L362.1,368.1 L363.1,369.2 L364.1,370.3 L365.1,371.5 L366.0,372.6 L367.0,373.8 L367.9,375.0 L368.9,376.2 L369.8,377.4 L370.7,378.6 L371.6,379.8 L372.5,381.0 L373.4,382.2 L374.3,383.5 L375.2,384.7 L376.0,386.0 L376.9,387.2 L377.8,388.5 L378.6,389.7 L379.5,391.0 L380.3,392.3 L381.1,393.6 L381.9,394.9 L382.7,396.2 L383.6,397.5 L384.3,398.9 L385.1,400.2 L385.9,401.5 L386.7,402.9 L387.4,404.3 L388.1,405.7 L388.9,407.1 L389.6,408.5 L390.3,409.9 L391.0,411.3 L391.6,412.8 L392.3,414.2 L393.0,415.7 L393.6,417.2 L394.2,418.7 L394.8,420.2 L395.4,421.7 L396.0,423.2 L396.6,424.8 L397.2,426.3 L397.7,427.9 L398.3,429.5 L398.8,431.1 L399.3,432.6 L399.8,434.3 L400.3,435.9 L400.8,437.5 L401.3,439.1 L401.8,440.8 L402.3,442.4 L402.7,444.1 L403.2,445.7 L403.6,447.4 L404.1,449.1 L404.5,450.8 L404.9,452.5 L405.3,454.2 L405.7,455.9 L406.1,457.6 L406.5,459.4 L406.9,461.1 L407.3,462.9 L407.7,464.6 L408.0,466.4 L408.4,468.1 L408.7,469.9 L409.1,471.6 L409.4,473.4 L409.8,475.2 L410.1,477.0 L410.5,478.8 L410.8,480.6 L411.1,482.4 L411.4,484.2 L411.8,486.0 L412.1,487.8 L412.4,489.6 L412.7,491.4 L413.0,493.2 L413.3,495.0 L413.6,496.8 L413.9,498.6 L414.2,500.4 L414.5,502.3 L414.8,504.1 L415.1,505.9 L415.4,507.7 L415.8,509.5 L416.1,511.3 L416.4,513.2 L416.7,515.0 L417.0,516.8 L417.3,518.6 L417.6,520.4" stroke="#f9a544" class="c" stroke-width="1.35"/>
<path d="M188.3,309.5 L190.3,309.7 L192.4,309.9 L194.4,310.0 L196.5,310.2 L198.5,310.4 L200.6,310.5 L202.6,310.7 L204.7,310.8 L206.7,311.0 L208.8,311.2 L210.8,311.3 L212.9,311.5 L214.9,311.7 L216.9,311.8 L219.0,312.0 L221.0,312.2 L223.0,312.4 L225.1,312.5 L227.1,312.7 L229.1,312.9 L231.1,313.1 L233.1,313.3 L235.1,313.5 L237.1,313.8 L239.1,314.0 L241.1,314.2 L243.1,314.5 L245.0,314.7 L247.0,315.0 L248.9,315.2 L250.8,315.5 L252.8,315.8 L254.7,316.1 L256.6,316.4 L258.5,316.7 L260.4,317.1 L262.2,317.4 L264.1,317.8 L265.9,318.1 L267.8,318.5 L269.6,318.9 L271.4,319.3 L273.2,319.7 L275.0,320.1 L276.8,320.5 L278.6,321.0 L280.4,321.4 L282.1,321.9 L283.9,322.3 L285.6,322.8 L287.3,323.3 L289.0,323.8 L290.7,324.3 L292.4,324.8 L294.1,325.3 L295.8,325.9 L297.5,326.4 L299.1,327.0 L300.8,327.5 L302.4,328.1 L304.0,328.7 L305.7,329.3 L307.3,329.9 L308.9,330.5 L310.5,331.1 L312.1,331.7 L313.7,332.4 L315.2,333.0 L316.8,333.6 L318.4,334.3 L319.9,334.9 L321.5,335.6 L323.0,336.3 L324.5,337.0 L326.1,337.6 L327.6,338.3 L329.1,339.1 L330.6,339.8 L332.0,340.5 L333.5,341.2 L335.0,342.0 L336.4,342.8 L337.9,343.5 L339.3,344.3 L340.7,345.1 L342.1,346.0 L343.5,346.8 L344.8,347.6 L346.2,348.5 L347.5,349.4 L348.8,350.3 L350.1,351.2 L351.4,352.1 L352.7,353.0 L354.0,354.0 L355.2,355.0 L356.4,355.9 L357.6,356.9 L358.8,358.0 L360.0,359.0 L361.2,360.0 L362.3,361.1 L363.5,362.2 L364.6,363.3 L365.7,364.4 L366.8,365.5 L367.8,366.6 L368.9,367.8 L369.9,369.0 L371.0,370.2 L372.0,371.4 L373.0,372.6 L374.0,373.8 L375.0,375.0 L375.9,376.3 L376.9,377.5 L377.8,378.8 L378.7,380.1 L379.6,381.4 L380.5,382.7 L381.4,384.0 L382.3,385.4 L383.2,386.7 L384.0,388.1 L384.9,389.4 L385.7,390.8 L386.5,392.2 L387.4,393.6 L388.2,395.0 L389.0,396.4 L389.7,397.8 L390.5,399.3 L391.3,400.7 L392.0,402.2 L392.7,403.7 L393.5,405.2 L394.2,406.7 L394.9,408.2 L395.5,409.7 L396.2,411.3 L396.9,412.8 L397.5,414.4 L398.1,416.0 L398.8,417.6 L399.4,419.2 L400.0,420.8 L400.5,422.4 L401.1,424.1 L401.7,425.7 L402.2,427.4 L402.7,429.1 L403.2,430.8 L403.7,432.5 L404.2,434.2 L404.7,436.0 L405.2,437.7 L405.6,439.5 L406.1,441.2 L406.5,443.0 L406.9,444.8 L407.3,446.6 L407.7,448.4 L408.1,450.3 L408.5,452.1 L408.8,454.0 L409.2,455.8 L409.5,457.7 L409.9,459.6 L410.2,461.4 L410.5,463.3 L410.8,465.2 L411.1,467.1 L411.4,469.0 L411.7,471.0 L412.0,472.9 L412.3,474.8 L412.6,476.8 L412.8,478.7 L413.1,480.7 L413.3,482.6 L413.6,484.6 L413.8,486.6 L414.1,488.5 L414.3,490.5 L414.6,492.5 L414.8,494.5 L415.0,496.4 L415.2,498.4 L415.5,500.4 L415.7,502.4 L415.9,504.4 L416.1,506.4 L416.3,508.4 L416.5,510.4 L416.8,512.4 L417.0,514.4 L417.2,516.4 L417.4,518.4 L417.6,520.4" stroke="#1e9a55" class="c" stroke-width="1.50"/>
<path d="M216.1,314.4 L218.1,314.4 L220.2,314.4 L222.1,314.5 L224.1,314.6 L226.0,314.7 L227.9,314.8 L229.8,315.0 L231.7,315.2 L233.6,315.4 L235.4,315.6 L237.2,315.8 L239.1,316.0 L240.9,316.2 L242.7,316.5 L244.5,316.7 L246.3,316.9 L248.1,317.2 L250.0,317.4 L251.8,317.6 L253.6,317.9 L255.4,318.1 L257.2,318.3 L259.0,318.6 L260.8,318.8 L262.7,319.0 L264.5,319.3 L266.3,319.5 L268.1,319.8 L269.9,320.0 L271.7,320.3 L273.5,320.5 L275.2,320.8 L277.0,321.0 L278.8,321.3 L280.6,321.6 L282.3,321.9 L284.1,322.2 L285.8,322.5 L287.6,322.8 L289.3,323.1 L291.0,323.4 L292.8,323.7 L294.5,324.1 L296.2,324.4 L297.9,324.8 L299.5,325.2 L301.2,325.5 L302.9,325.9 L304.5,326.3 L306.1,326.8 L307.8,327.2 L309.4,327.6 L311.0,328.1 L312.5,328.5 L314.1,329.0 L315.7,329.5 L317.2,330.0 L318.7,330.5 L320.2,331.1 L321.7,331.6 L323.2,332.2 L324.7,332.8 L326.2,333.3 L327.6,334.0 L329.0,334.6 L330.4,335.2 L331.8,335.9 L333.2,336.5 L334.6,337.2 L335.9,337.9 L337.3,338.6 L338.6,339.3 L339.9,340.1 L341.2,340.8 L342.5,341.6 L343.8,342.3 L345.0,343.1 L346.3,343.9 L347.5,344.8 L348.7,345.6 L349.9,346.4 L351.1,347.3 L352.3,348.2 L353.5,349.1 L354.6,350.0 L355.7,350.9 L356.8,351.8 L357.9,352.8 L359.0,353.7 L360.1,354.7 L361.2,355.7 L362.2,356.7 L363.2,357.7 L364.3,358.7 L365.3,359.8 L366.2,360.8 L367.2,361.9 L368.2,363.0 L369.1,364.1 L370.1,365.2 L371.0,366.3 L371.9,367.5 L372.8,368.6 L373.7,369.8 L374.5,371.0 L375.4,372.2 L376.2,373.4 L377.0,374.6 L377.8,375.9 L378.6,377.1 L379.4,378.4 L380.2,379.7 L380.9,381.0 L381.7,382.3 L382.4,383.6 L383.1,384.9 L383.8,386.3 L384.5,387.7 L385.1,389.0 L385.8,390.4 L386.4,391.9 L387.1,393.3 L387.7,394.7 L388.3,396.2 L388.8,397.6 L389.4,399.1 L390.0,400.6 L390.5,402.1 L391.0,403.6 L391.6,405.1 L392.1,406.6 L392.7,408.2 L393.2,409.7 L393.7,411.1 L394.3,412.6 L394.9,414.1 L395.4,415.6 L396.0,417.1 L396.6,418.5 L397.2,420.0 L397.8,421.5 L398.3,422.9 L398.9,424.4 L399.5,425.9 L400.0,427.4 L400.6,428.9 L401.1,430.4 L401.7,431.9 L402.2,433.4 L402.7,434.9 L403.2,436.5 L403.7,438.1 L404.2,439.6 L404.6,441.2 L405.1,442.8 L405.5,444.5 L405.9,446.1 L406.2,447.8 L406.6,449.5 L406.9,451.2 L407.2,453.0 L407.5,454.8 L407.7,456.6 L407.9,458.4 L408.1,460.3 L408.2,462.2 L408.3,464.1 L408.4,466.1 L408.5,468.1 L408.5,470.1 L408.6,472.1 L408.6,474.1 L408.6,476.2 L408.6,478.2 L408.6,480.3 L408.6,482.3 L408.6,484.3 L408.7,486.3 L408.7,488.4 L408.7,490.3 L408.8,492.3 L408.9,494.3 L409.0,496.2 L409.2,498.1 L409.4,499.9 L409.6,501.8 L409.9,503.5 L410.2,505.3 L410.6,507.0 L411.0,508.6 L411.5,510.2 L412.0,511.7 L412.6,513.1 L413.2,514.5 L413.9,515.9 L414.7,517.1 L415.6,518.3 L416.6,519.4 L417.6,520.4" stroke="#22b0e4" class="c" stroke-width="1.55"/>
<path d="M191.0,302.3 L193.0,302.5 L195.1,302.7 L197.1,302.9 L199.1,303.1 L201.1,303.3 L203.1,303.6 L205.2,303.8 L207.2,304.0 L209.2,304.2 L211.2,304.4 L213.2,304.7 L215.2,304.9 L217.3,305.1 L219.3,305.3 L221.3,305.6 L223.3,305.8 L225.3,306.0 L227.3,306.3 L229.3,306.5 L231.3,306.7 L233.2,307.0 L235.2,307.2 L237.2,307.5 L239.2,307.7 L241.2,308.0 L243.2,308.2 L245.1,308.5 L247.1,308.8 L249.1,309.0 L251.0,309.3 L253.0,309.6 L254.9,309.9 L256.9,310.1 L258.8,310.4 L260.8,310.7 L262.7,311.0 L264.7,311.3 L266.6,311.6 L268.5,311.9 L270.5,312.2 L272.4,312.5 L274.3,312.9 L276.2,313.2 L278.1,313.5 L280.0,313.8 L281.9,314.2 L283.8,314.5 L285.7,314.9 L287.6,315.2 L289.5,315.6 L291.3,315.9 L293.2,316.3 L295.1,316.7 L296.9,317.0 L298.8,317.4 L300.6,317.8 L302.5,318.2 L304.3,318.6 L306.1,319.0 L307.9,319.4 L309.7,319.9 L311.6,320.3 L313.3,320.7 L315.1,321.2 L316.9,321.6 L318.7,322.1 L320.5,322.6 L322.2,323.0 L324.0,323.5 L325.7,324.0 L327.4,324.5 L329.2,325.0 L330.9,325.6 L332.5,326.1 L334.2,326.7 L335.9,327.2 L337.5,327.8 L339.2,328.4 L340.8,329.0 L342.4,329.7 L344.0,330.3 L345.6,331.0 L347.1,331.7 L348.7,332.4 L350.2,333.1 L351.7,333.8 L353.1,334.6 L354.6,335.3 L356.0,336.1 L357.5,337.0 L358.9,337.8 L360.2,338.6 L361.6,339.5 L362.9,340.4 L364.2,341.3 L365.5,342.3 L366.8,343.3 L368.0,344.2 L369.3,345.3 L370.5,346.3 L371.7,347.4 L372.8,348.4 L373.9,349.5 L375.1,350.6 L376.2,351.8 L377.2,353.0 L378.3,354.1 L379.3,355.3 L380.3,356.6 L381.3,357.8 L382.3,359.1 L383.2,360.4 L384.2,361.7 L385.1,363.0 L386.0,364.3 L386.8,365.7 L387.7,367.1 L388.5,368.5 L389.3,369.9 L390.1,371.3 L390.9,372.8 L391.7,374.2 L392.4,375.7 L393.2,377.2 L393.9,378.8 L394.6,380.3 L395.2,381.9 L395.9,383.5 L396.5,385.0 L397.2,386.7 L397.8,388.3 L398.3,389.9 L398.9,391.6 L399.5,393.3 L400.0,395.0 L400.6,396.7 L401.1,398.4 L401.6,400.1 L402.0,401.9 L402.5,403.6 L403.0,405.4 L403.4,407.2 L403.8,409.0 L404.2,410.9 L404.6,412.7 L405.0,414.6 L405.4,416.4 L405.7,418.3 L406.1,420.2 L406.4,422.1 L406.7,424.0 L407.0,425.9 L407.3,427.9 L407.6,429.8 L407.9,431.8 L408.2,433.7 L408.4,435.7 L408.7,437.7 L408.9,439.7 L409.2,441.7 L409.4,443.7 L409.6,445.7 L409.9,447.7 L410.1,449.7 L410.3,451.7 L410.5,453.8 L410.7,455.8 L410.9,457.8 L411.1,459.9 L411.3,461.9 L411.5,464.0 L411.6,466.0 L411.8,468.1 L412.0,470.1 L412.2,472.2 L412.4,474.2 L412.6,476.3 L412.8,478.3 L412.9,480.4 L413.1,482.4 L413.3,484.5 L413.5,486.5 L413.7,488.5 L413.9,490.6 L414.1,492.6 L414.3,494.6 L414.5,496.7 L414.7,498.7 L415.0,500.7 L415.2,502.7 L415.4,504.7 L415.7,506.7 L415.9,508.7 L416.2,510.6 L416.4,512.6 L416.7,514.6 L417.0,516.5 L417.3,518.5 L417.6,520.4" stroke="#6f5e7c" class="c" stroke-width="1.30"/>
<path d="M206.8,301.3 L208.7,301.5 L210.7,301.8 L212.6,302.0 L214.5,302.2 L216.5,302.4 L218.4,302.7 L220.3,302.9 L222.3,303.1 L224.2,303.3 L226.2,303.5 L228.1,303.8 L230.0,304.0 L232.0,304.2 L233.9,304.4 L235.9,304.6 L237.8,304.9 L239.7,305.1 L241.7,305.3 L243.6,305.5 L245.5,305.8 L247.5,306.0 L249.4,306.2 L251.3,306.5 L253.2,306.7 L255.2,306.9 L257.1,307.2 L259.0,307.4 L260.9,307.7 L262.8,307.9 L264.7,308.2 L266.6,308.4 L268.5,308.7 L270.4,308.9 L272.3,309.2 L274.2,309.5 L276.1,309.7 L278.0,310.0 L279.9,310.3 L281.8,310.6 L283.6,310.9 L285.5,311.2 L287.4,311.5 L289.2,311.8 L291.1,312.1 L292.9,312.4 L294.8,312.7 L296.6,313.0 L298.4,313.4 L300.3,313.7 L302.1,314.0 L303.9,314.4 L305.7,314.7 L307.5,315.1 L309.3,315.5 L311.1,315.8 L312.9,316.2 L314.6,316.6 L316.4,317.0 L318.1,317.4 L319.9,317.8 L321.6,318.2 L323.4,318.7 L325.1,319.1 L326.8,319.6 L328.5,320.0 L330.2,320.5 L331.9,321.0 L333.5,321.5 L335.2,322.0 L336.8,322.5 L338.5,323.0 L340.1,323.5 L341.7,324.1 L343.3,324.7 L344.9,325.3 L346.4,325.9 L348.0,326.5 L349.5,327.1 L351.0,327.8 L352.5,328.4 L354.0,329.1 L355.4,329.8 L356.9,330.5 L358.3,331.3 L359.7,332.0 L361.1,332.8 L362.5,333.6 L363.8,334.4 L365.1,335.2 L366.4,336.1 L367.7,337.0 L369.0,337.9 L370.2,338.8 L371.4,339.8 L372.6,340.7 L373.8,341.7 L374.9,342.7 L376.0,343.8 L377.1,344.9 L378.2,346.0 L379.2,347.1 L380.2,348.2 L381.2,349.4 L382.2,350.6 L383.2,351.8 L384.1,353.0 L385.0,354.2 L385.9,355.5 L386.8,356.8 L387.6,358.1 L388.5,359.4 L389.3,360.8 L390.1,362.1 L390.9,363.5 L391.6,364.9 L392.4,366.3 L393.1,367.8 L393.8,369.2 L394.5,370.7 L395.2,372.2 L395.8,373.7 L396.5,375.2 L397.1,376.7 L397.7,378.3 L398.3,379.9 L398.9,381.4 L399.4,383.0 L400.0,384.7 L400.5,386.3 L401.0,387.9 L401.5,389.6 L402.0,391.3 L402.5,393.0 L402.9,394.7 L403.4,396.4 L403.8,398.1 L404.2,399.9 L404.6,401.6 L405.0,403.4 L405.3,405.2 L405.7,407.0 L406.0,408.8 L406.4,410.6 L406.7,412.5 L407.0,414.3 L407.3,416.2 L407.6,418.1 L407.8,420.0 L408.1,421.9 L408.3,423.8 L408.6,425.7 L408.8,427.6 L409.0,429.6 L409.3,431.5 L409.5,433.5 L409.7,435.5 L409.8,437.4 L410.0,439.4 L410.2,441.4 L410.4,443.4 L410.5,445.4 L410.7,447.4 L410.9,449.4 L411.0,451.4 L411.2,453.4 L411.3,455.4 L411.5,457.4 L411.6,459.4 L411.7,461.4 L411.9,463.5 L412.0,465.5 L412.2,467.5 L412.3,469.5 L412.4,471.5 L412.6,473.6 L412.7,475.6 L412.9,477.6 L413.0,479.6 L413.2,481.6 L413.3,483.6 L413.5,485.6 L413.7,487.6 L413.8,489.6 L414.0,491.6 L414.2,493.6 L414.4,495.5 L414.6,497.5 L414.8,499.5 L415.0,501.4 L415.2,503.4 L415.4,505.3 L415.7,507.2 L415.9,509.1 L416.2,511.0 L416.4,512.9 L416.7,514.8 L417.0,516.7 L417.3,518.6 L417.6,520.4" stroke="#fcd3a6" class="c" stroke-width="1.20"/>
<path d="M191.5,298.3 L193.6,298.4 L195.8,298.5 L197.9,298.7 L200.0,298.8 L202.2,298.9 L204.3,299.0 L206.4,299.1 L208.5,299.3 L210.7,299.4 L212.8,299.5 L214.9,299.7 L217.0,299.8 L219.1,299.9 L221.3,300.1 L223.4,300.2 L225.5,300.4 L227.6,300.5 L229.7,300.7 L231.8,300.8 L233.9,301.0 L235.9,301.2 L238.0,301.3 L240.1,301.5 L242.2,301.7 L244.3,301.8 L246.3,302.0 L248.4,302.2 L250.5,302.4 L252.5,302.6 L254.6,302.8 L256.6,303.0 L258.7,303.2 L260.7,303.4 L262.8,303.6 L264.8,303.8 L266.8,304.1 L268.8,304.3 L270.8,304.5 L272.9,304.8 L274.9,305.0 L276.9,305.3 L278.9,305.5 L280.8,305.8 L282.8,306.1 L284.8,306.3 L286.8,306.6 L288.7,306.9 L290.7,307.2 L292.6,307.5 L294.6,307.8 L296.5,308.1 L298.5,308.5 L300.4,308.8 L302.3,309.1 L304.2,309.5 L306.1,309.8 L308.0,310.2 L309.8,310.6 L311.7,311.0 L313.6,311.4 L315.4,311.8 L317.3,312.2 L319.1,312.6 L320.9,313.0 L322.7,313.5 L324.5,313.9 L326.3,314.4 L328.1,314.9 L329.8,315.4 L331.6,315.9 L333.3,316.4 L335.1,316.9 L336.8,317.4 L338.5,318.0 L340.2,318.6 L341.8,319.1 L343.5,319.7 L345.2,320.3 L346.8,320.9 L348.4,321.6 L350.0,322.2 L351.6,322.9 L353.2,323.6 L354.7,324.3 L356.3,325.0 L357.8,325.7 L359.3,326.4 L360.8,327.2 L362.2,328.0 L363.7,328.8 L365.1,329.6 L366.5,330.5 L367.9,331.4 L369.2,332.3 L370.6,333.2 L371.9,334.2 L373.1,335.1 L374.4,336.1 L375.6,337.2 L376.8,338.2 L378.0,339.3 L379.1,340.4 L380.2,341.5 L381.3,342.7 L382.4,343.9 L383.4,345.1 L384.4,346.4 L385.4,347.7 L386.3,349.0 L387.2,350.3 L388.1,351.7 L389.0,353.1 L389.8,354.5 L390.7,355.9 L391.5,357.3 L392.3,358.8 L393.0,360.3 L393.8,361.8 L394.5,363.3 L395.2,364.9 L395.9,366.4 L396.6,368.0 L397.2,369.6 L397.9,371.2 L398.5,372.8 L399.1,374.4 L399.8,376.1 L400.4,377.7 L401.0,379.4 L401.5,381.1 L402.1,382.7 L402.7,384.4 L403.2,386.1 L403.8,387.8 L404.4,389.5 L404.9,391.2 L405.4,392.9 L406.0,394.6 L406.5,396.4 L407.0,398.1 L407.5,399.9 L408.0,401.6 L408.4,403.4 L408.9,405.2 L409.3,407.1 L409.7,408.9 L410.1,410.8 L410.5,412.6 L410.9,414.5 L411.2,416.5 L411.5,418.4 L411.8,420.3 L412.1,422.3 L412.4,424.3 L412.6,426.3 L412.9,428.3 L413.1,430.3 L413.3,432.4 L413.5,434.4 L413.7,436.5 L413.9,438.6 L414.0,440.6 L414.2,442.7 L414.3,444.9 L414.4,447.0 L414.6,449.1 L414.7,451.2 L414.8,453.4 L414.9,455.5 L415.0,457.7 L415.1,459.9 L415.2,462.0 L415.2,464.2 L415.3,466.4 L415.4,468.6 L415.5,470.7 L415.5,472.9 L415.6,475.1 L415.7,477.3 L415.7,479.5 L415.8,481.7 L415.8,483.9 L415.9,486.1 L416.0,488.2 L416.0,490.4 L416.1,492.6 L416.2,494.8 L416.3,497.0 L416.4,499.1 L416.4,501.3 L416.5,503.4 L416.6,505.6 L416.8,507.7 L416.9,509.9 L417.0,512.0 L417.1,514.1 L417.3,516.2 L417.4,518.3 L417.6,520.4" stroke="#e5743f" class="c" stroke-width="1.30"/>
<line x1="175" y1="448.1" x2="187.7" y2="448.1" stroke="#1e9a55" stroke-width="1.45"/>
<text x="196.3" y="449.3" font-size="8.7" class="lg" transform="translate(196.3,0) scale(1.1,1) translate(-196.3,0)">[AUC=0.963]VGG16</text>
<line x1="175" y1="458.1" x2="187.7" y2="458.1" stroke="#a6cc3a" stroke-width="1.45"/>
<text x="196.3" y="459.3" font-size="8.7" class="lg" transform="translate(196.3,0) scale(1.1,1) translate(-196.3,0)">[AUC=0.974]InceptionV4</text>
<line x1="175" y1="467.4" x2="187.7" y2="467.4" stroke="#22b0e4" stroke-width="1.45"/>
<text x="196.3" y="468.6" font-size="8.7" class="lg" transform="translate(196.3,0) scale(1.1,1) translate(-196.3,0)">[AUC=0.962]GoogleNet</text>
<line x1="175" y1="476.5" x2="187.7" y2="476.5" stroke="#8aa4b4" stroke-width="1.45"/>
<text x="196.3" y="477.7" font-size="8.7" class="lg" transform="translate(196.3,0) scale(1.1,1) translate(-196.3,0)">[AUC=0.981]ResNet50</text>
<line x1="175" y1="486.6" x2="187.7" y2="486.6" stroke="#f9a544" stroke-width="1.45"/>
<text x="196.3" y="487.8" font-size="8.7" class="lg" transform="translate(196.3,0) scale(1.1,1) translate(-196.3,0)">[AUC=0.952]AlexNet</text>
<line x1="175" y1="495.4" x2="187.7" y2="495.4" stroke="#6f5e7c" stroke-width="1.45"/>
<text x="196.3" y="496.6" font-size="8.7" class="lg" transform="translate(196.3,0) scale(1.1,1) translate(-196.3,0)">[AUC=0.975]DaViT</text>
<line x1="175" y1="504.3" x2="187.7" y2="504.3" stroke="#fcd3a6" stroke-width="1.45"/>
<text x="196.3" y="505.5" font-size="8.7" class="lg" transform="translate(196.3,0) scale(1.1,1) translate(-196.3,0)">[AUC=0.987]SI-ViT</text>
<line x1="175" y1="512.8" x2="187.7" y2="512.8" stroke="#e5743f" stroke-width="1.45"/>
<text x="196.3" y="514.0" font-size="8.7" class="lg" transform="translate(196.3,0) scale(1.1,1) translate(-196.3,0)">[AUC=0.999]CCTNet</text>
<text x="161.0" y="530.8" font-size="8" text-anchor="middle" transform="translate(161.0,0) scale(1.15,1) translate(-161.0,0)" class="t">0.0</text>
<text x="157" y="521.9" font-size="8" text-anchor="end" transform="translate(157,0) scale(1.15,1) translate(-157,0)" class="t">0.0</text>
<text x="185.3" y="530.8" font-size="8" text-anchor="middle" transform="translate(185.3,0) scale(1.15,1) translate(-185.3,0)" class="t">0.1</text>
<text x="157" y="502.4" font-size="8" text-anchor="end" transform="translate(157,0) scale(1.15,1) translate(-157,0)" class="t">0.1</text>
<text x="211.1" y="530.8" font-size="8" text-anchor="middle" transform="translate(211.1,0) scale(1.15,1) translate(-211.1,0)" class="t">0.2</text>
<text x="157" y="480.1" font-size="8" text-anchor="end" transform="translate(157,0) scale(1.15,1) translate(-157,0)" class="t">0.2</text>
<text x="236.9" y="530.8" font-size="8" text-anchor="middle" transform="translate(236.9,0) scale(1.15,1) translate(-236.9,0)" class="t">0.3</text>
<text x="157" y="457.7" font-size="8" text-anchor="end" transform="translate(157,0) scale(1.15,1) translate(-157,0)" class="t">0.3</text>
<text x="262.7" y="530.8" font-size="8" text-anchor="middle" transform="translate(262.7,0) scale(1.15,1) translate(-262.7,0)" class="t">0.4</text>
<text x="157" y="435.4" font-size="8" text-anchor="end" transform="translate(157,0) scale(1.15,1) translate(-157,0)" class="t">0.4</text>
<text x="288.6" y="530.8" font-size="8" text-anchor="middle" transform="translate(288.6,0) scale(1.15,1) translate(-288.6,0)" class="t">0.5</text>
<text x="157" y="413.1" font-size="8" text-anchor="end" transform="translate(157,0) scale(1.15,1) translate(-157,0)" class="t">0.5</text>
<text x="314.4" y="530.8" font-size="8" text-anchor="middle" transform="translate(314.4,0) scale(1.15,1) translate(-314.4,0)" class="t">0.6</text>
<text x="157" y="390.8" font-size="8" text-anchor="end" transform="translate(157,0) scale(1.15,1) translate(-157,0)" class="t">0.6</text>
<text x="340.2" y="530.8" font-size="8" text-anchor="middle" transform="translate(340.2,0) scale(1.15,1) translate(-340.2,0)" class="t">0.7</text>
<text x="157" y="368.5" font-size="8" text-anchor="end" transform="translate(157,0) scale(1.15,1) translate(-157,0)" class="t">0.7</text>
<text x="366.0" y="530.8" font-size="8" text-anchor="middle" transform="translate(366.0,0) scale(1.15,1) translate(-366.0,0)" class="t">0.8</text>
<text x="157" y="346.1" font-size="8" text-anchor="end" transform="translate(157,0) scale(1.15,1) translate(-157,0)" class="t">0.8</text>
<text x="391.8" y="530.8" font-size="8" text-anchor="middle" transform="translate(391.8,0) scale(1.15,1) translate(-391.8,0)" class="t">0.9</text>
<text x="157" y="323.8" font-size="8" text-anchor="end" transform="translate(157,0) scale(1.15,1) translate(-157,0)" class="t">0.9</text>
<text x="417.6" y="530.8" font-size="8" text-anchor="middle" transform="translate(417.6,0) scale(1.15,1) translate(-417.6,0)" class="t">1.0</text>
<text x="157" y="301.5" font-size="8" text-anchor="end" transform="translate(157,0) scale(1.15,1) translate(-157,0)" class="t">1.0</text>
<text x="198.6" y="220.9" font-size="8.4" text-anchor="middle" class="an">Historical Building</text>
<text x="198.6" y="230.4" font-size="8.4" text-anchor="middle" class="an">Crack2019</text>
<text x="482.5" y="220.5" font-size="9.3" text-anchor="middle" class="an" textLength="63" lengthAdjust="spacingAndGlyphs">SDTNET2018</text>
<text x="354.3" y="487.0" font-size="9.5" text-anchor="middle" class="an" textLength="70.4" lengthAdjust="spacingAndGlyphs">Proposed DS3</text>
<text x="138.5" y="278" font-size="9" text-anchor="middle" class="al" textLength="24.5" lengthAdjust="spacingAndGlyphs">Recall</text>
<text x="426" y="274.9" font-size="9" text-anchor="middle" class="al" textLength="25.2" lengthAdjust="spacingAndGlyphs">Recall</text>
<text x="285.2" y="540" font-size="8.8" text-anchor="middle" class="al" textLength="28.7" lengthAdjust="spacingAndGlyphs">Recall</text>
<text transform="translate(11.8,143.5) rotate(-90)" x="0" y="0" font-size="9.3" text-anchor="middle" class="ar" textLength="43.5" lengthAdjust="spacingAndGlyphs">Precision</text>
<text transform="translate(293.0,147.0) rotate(-90)" x="0" y="0" font-size="9.3" text-anchor="middle" class="ar" textLength="40" lengthAdjust="spacingAndGlyphs">Precision</text>
<text transform="translate(137.8,420.8) rotate(-90)" x="0" y="0" font-size="9.3" text-anchor="middle" class="ar" textLength="36.4" lengthAdjust="spacingAndGlyphs">Precision</text>
<text x="136" y="291.5" font-size="10.5" text-anchor="middle" class="pl">(a)</text>
<text x="415.6" y="291.3" font-size="10.5" text-anchor="middle" class="pl">(b)</text>
<text x="275.8" y="555.5" font-size="10.5" text-anchor="middle" class="pl">(c)</text>
</svg></body></html>
